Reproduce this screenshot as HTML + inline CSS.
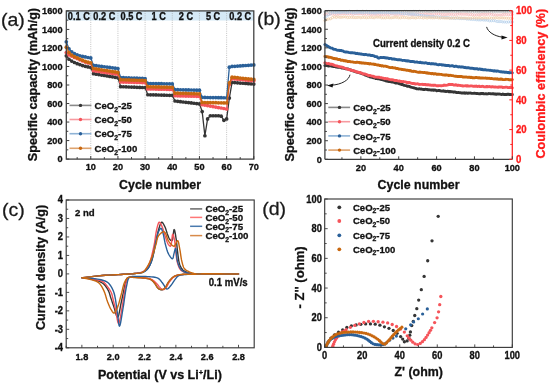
<!DOCTYPE html>
<html><head><meta charset="utf-8"><style>
html,body{margin:0;padding:0;background:#fff;}
svg{display:block;filter:blur(0.35px);font-family:"Liberation Sans", sans-serif;}
</style></head><body>
<svg width="550" height="386" viewBox="0 0 550 386">
<rect width="550" height="386" fill="#fff"/>
<text transform="translate(1,25.8) scale(1,0.92)" font-size="19.5" font-weight="normal" text-anchor="start" fill="#1a1a1a" stroke="#1a1a1a" stroke-width="0.3" >(a)</text>
<rect x="66.3" y="10.9" width="187.5" height="9.6" fill="#d5e9f6"/>
<line x1="90.76" y1="10.9" x2="90.76" y2="159.1" stroke="#9a9a9a" stroke-width="0.6" stroke-dasharray="1,1.2"/>
<line x1="117.93" y1="10.9" x2="117.93" y2="159.1" stroke="#9a9a9a" stroke-width="0.6" stroke-dasharray="1,1.2"/>
<line x1="145.1" y1="10.9" x2="145.1" y2="159.1" stroke="#9a9a9a" stroke-width="0.6" stroke-dasharray="1,1.2"/>
<line x1="172.28" y1="10.9" x2="172.28" y2="159.1" stroke="#9a9a9a" stroke-width="0.6" stroke-dasharray="1,1.2"/>
<line x1="199.45" y1="10.9" x2="199.45" y2="159.1" stroke="#9a9a9a" stroke-width="0.6" stroke-dasharray="1,1.2"/>
<line x1="226.63" y1="10.9" x2="226.63" y2="159.1" stroke="#9a9a9a" stroke-width="0.6" stroke-dasharray="1,1.2"/>
<text transform="translate(78.8,19.9) scale(1,1.1)" font-size="9.2" font-weight="bold" text-anchor="middle" fill="#111" stroke="#111" stroke-width="0.3" >0.1 C</text>
<text transform="translate(104.34,19.9) scale(1,1.1)" font-size="9.2" font-weight="bold" text-anchor="middle" fill="#111" stroke="#111" stroke-width="0.3" >0.2 C</text>
<text transform="translate(131.52,19.9) scale(1,1.1)" font-size="9.2" font-weight="bold" text-anchor="middle" fill="#111" stroke="#111" stroke-width="0.3" >0.5 C</text>
<text transform="translate(158.69,19.9) scale(1,1.1)" font-size="9.2" font-weight="bold" text-anchor="middle" fill="#111" stroke="#111" stroke-width="0.3" >1 C</text>
<text transform="translate(185.87,19.9) scale(1,1.1)" font-size="9.2" font-weight="bold" text-anchor="middle" fill="#111" stroke="#111" stroke-width="0.3" >2 C</text>
<text transform="translate(213.04,19.9) scale(1,1.1)" font-size="9.2" font-weight="bold" text-anchor="middle" fill="#111" stroke="#111" stroke-width="0.3" >5 C</text>
<text transform="translate(240.21,19.9) scale(1,1.1)" font-size="9.2" font-weight="bold" text-anchor="middle" fill="#111" stroke="#111" stroke-width="0.3" >0.2 C</text>
<polyline points="66.3,55.82 69.02,59.25 71.73,61.1 74.45,62.49 77.17,63.7 79.89,64.62 82.6,65.55 85.32,66.29 88.04,66.94 90.76,67.59 93.47,73.7 96.19,74.15 98.91,74.61 101.63,75.06 104.34,75.51 107.06,75.96 109.78,76.42 112.5,76.87 115.21,77.32 117.93,77.78 120.65,86.67 123.37,86.77 126.08,86.87 128.8,86.98 131.52,87.08 134.23,87.18 136.95,87.28 139.67,87.39 142.39,87.49 145.1,87.59 147.82,94.73 150.54,94.8 153.26,94.87 155.97,94.94 158.69,95.01 161.41,95.09 164.13,95.16 166.84,95.23 169.56,95.3 172.28,95.37 175,101.02 177.71,101.34 180.43,101.66 183.15,101.98 185.87,102.3 188.58,102.62 191.3,102.94 194.02,103.26 196.73,103.58 199.45,103.9 202.17,111.58 204.89,135.76 207.6,118.9 210.32,115.75 213.04,115.75 215.76,115.75 218.47,115.75 221.19,116.21 223.91,120.29 226.63,118.9 229.34,98.06 232.06,82.41 234.78,82.61 237.5,82.82 240.21,83.03 242.93,83.24 245.65,83.45 248.37,83.66 251.08,83.87 253.8,84.07" fill="none" stroke="#353535" stroke-width="1.3" stroke-linejoin="round" stroke-linecap="round" />
<g fill="#353535"><circle cx="66.3" cy="55.82" r="1.85"/><circle cx="69.02" cy="59.25" r="1.85"/><circle cx="71.73" cy="61.1" r="1.85"/><circle cx="74.45" cy="62.49" r="1.85"/><circle cx="77.17" cy="63.7" r="1.85"/><circle cx="79.89" cy="64.62" r="1.85"/><circle cx="82.6" cy="65.55" r="1.85"/><circle cx="85.32" cy="66.29" r="1.85"/><circle cx="88.04" cy="66.94" r="1.85"/><circle cx="90.76" cy="67.59" r="1.85"/><circle cx="93.47" cy="73.7" r="1.85"/><circle cx="96.19" cy="74.15" r="1.85"/><circle cx="98.91" cy="74.61" r="1.85"/><circle cx="101.63" cy="75.06" r="1.85"/><circle cx="104.34" cy="75.51" r="1.85"/><circle cx="107.06" cy="75.96" r="1.85"/><circle cx="109.78" cy="76.42" r="1.85"/><circle cx="112.5" cy="76.87" r="1.85"/><circle cx="115.21" cy="77.32" r="1.85"/><circle cx="117.93" cy="77.78" r="1.85"/><circle cx="120.65" cy="86.67" r="1.85"/><circle cx="123.37" cy="86.77" r="1.85"/><circle cx="126.08" cy="86.87" r="1.85"/><circle cx="128.8" cy="86.98" r="1.85"/><circle cx="131.52" cy="87.08" r="1.85"/><circle cx="134.23" cy="87.18" r="1.85"/><circle cx="136.95" cy="87.28" r="1.85"/><circle cx="139.67" cy="87.39" r="1.85"/><circle cx="142.39" cy="87.49" r="1.85"/><circle cx="145.1" cy="87.59" r="1.85"/><circle cx="147.82" cy="94.73" r="1.85"/><circle cx="150.54" cy="94.8" r="1.85"/><circle cx="153.26" cy="94.87" r="1.85"/><circle cx="155.97" cy="94.94" r="1.85"/><circle cx="158.69" cy="95.01" r="1.85"/><circle cx="161.41" cy="95.09" r="1.85"/><circle cx="164.13" cy="95.16" r="1.85"/><circle cx="166.84" cy="95.23" r="1.85"/><circle cx="169.56" cy="95.3" r="1.85"/><circle cx="172.28" cy="95.37" r="1.85"/><circle cx="175" cy="101.02" r="1.85"/><circle cx="177.71" cy="101.34" r="1.85"/><circle cx="180.43" cy="101.66" r="1.85"/><circle cx="183.15" cy="101.98" r="1.85"/><circle cx="185.87" cy="102.3" r="1.85"/><circle cx="188.58" cy="102.62" r="1.85"/><circle cx="191.3" cy="102.94" r="1.85"/><circle cx="194.02" cy="103.26" r="1.85"/><circle cx="196.73" cy="103.58" r="1.85"/><circle cx="199.45" cy="103.9" r="1.85"/><circle cx="202.17" cy="111.58" r="1.85"/><circle cx="204.89" cy="135.76" r="1.85"/><circle cx="207.6" cy="118.9" r="1.85"/><circle cx="210.32" cy="115.75" r="1.85"/><circle cx="213.04" cy="115.75" r="1.85"/><circle cx="215.76" cy="115.75" r="1.85"/><circle cx="218.47" cy="115.75" r="1.85"/><circle cx="221.19" cy="116.21" r="1.85"/><circle cx="223.91" cy="120.29" r="1.85"/><circle cx="226.63" cy="118.9" r="1.85"/><circle cx="229.34" cy="98.06" r="1.85"/><circle cx="232.06" cy="82.41" r="1.85"/><circle cx="234.78" cy="82.61" r="1.85"/><circle cx="237.5" cy="82.82" r="1.85"/><circle cx="240.21" cy="83.03" r="1.85"/><circle cx="242.93" cy="83.24" r="1.85"/><circle cx="245.65" cy="83.45" r="1.85"/><circle cx="248.37" cy="83.66" r="1.85"/><circle cx="251.08" cy="83.87" r="1.85"/><circle cx="253.8" cy="84.07" r="1.85"/></g>
<polyline points="66.3,52.58 69.02,54.9 71.73,56.1 74.45,57.4 77.17,58.6 79.89,59.81 82.6,60.92 85.32,62.03 88.04,62.96 90.76,63.51 93.47,70.64 96.19,71.05 98.91,71.47 101.63,71.88 104.34,72.29 107.06,72.7 109.78,73.11 112.5,73.52 115.21,73.94 117.93,74.35 120.65,81.94 123.37,82.03 126.08,82.11 128.8,82.19 131.52,82.27 134.23,82.36 136.95,82.44 139.67,82.52 142.39,82.6 145.1,82.68 147.82,88.89 150.54,88.95 153.26,89.01 155.97,89.08 158.69,89.14 161.41,89.2 164.13,89.26 166.84,89.32 169.56,89.38 172.28,89.45 175,95.74 177.71,95.82 180.43,95.89 183.15,95.96 185.87,96.03 188.58,96.1 191.3,96.18 194.02,96.25 196.73,96.32 199.45,96.39 202.17,104.64 204.89,105.12 207.6,105.6 210.32,106.09 213.04,106.57 215.76,107.06 218.47,107.54 221.19,108.02 223.91,108.51 226.63,108.99 229.34,84.44 232.06,78.7 234.78,78.97 237.5,79.23 240.21,79.5 242.93,79.77 245.65,80.03 248.37,80.3 251.08,80.57 253.8,80.83" fill="none" stroke="#f5545a" stroke-width="1.3" stroke-linejoin="round" stroke-linecap="round" />
<g fill="#f5545a"><circle cx="66.3" cy="52.58" r="1.85"/><circle cx="69.02" cy="54.9" r="1.85"/><circle cx="71.73" cy="56.1" r="1.85"/><circle cx="74.45" cy="57.4" r="1.85"/><circle cx="77.17" cy="58.6" r="1.85"/><circle cx="79.89" cy="59.81" r="1.85"/><circle cx="82.6" cy="60.92" r="1.85"/><circle cx="85.32" cy="62.03" r="1.85"/><circle cx="88.04" cy="62.96" r="1.85"/><circle cx="90.76" cy="63.51" r="1.85"/><circle cx="93.47" cy="70.64" r="1.85"/><circle cx="96.19" cy="71.05" r="1.85"/><circle cx="98.91" cy="71.47" r="1.85"/><circle cx="101.63" cy="71.88" r="1.85"/><circle cx="104.34" cy="72.29" r="1.85"/><circle cx="107.06" cy="72.7" r="1.85"/><circle cx="109.78" cy="73.11" r="1.85"/><circle cx="112.5" cy="73.52" r="1.85"/><circle cx="115.21" cy="73.94" r="1.85"/><circle cx="117.93" cy="74.35" r="1.85"/><circle cx="120.65" cy="81.94" r="1.85"/><circle cx="123.37" cy="82.03" r="1.85"/><circle cx="126.08" cy="82.11" r="1.85"/><circle cx="128.8" cy="82.19" r="1.85"/><circle cx="131.52" cy="82.27" r="1.85"/><circle cx="134.23" cy="82.36" r="1.85"/><circle cx="136.95" cy="82.44" r="1.85"/><circle cx="139.67" cy="82.52" r="1.85"/><circle cx="142.39" cy="82.6" r="1.85"/><circle cx="145.1" cy="82.68" r="1.85"/><circle cx="147.82" cy="88.89" r="1.85"/><circle cx="150.54" cy="88.95" r="1.85"/><circle cx="153.26" cy="89.01" r="1.85"/><circle cx="155.97" cy="89.08" r="1.85"/><circle cx="158.69" cy="89.14" r="1.85"/><circle cx="161.41" cy="89.2" r="1.85"/><circle cx="164.13" cy="89.26" r="1.85"/><circle cx="166.84" cy="89.32" r="1.85"/><circle cx="169.56" cy="89.38" r="1.85"/><circle cx="172.28" cy="89.45" r="1.85"/><circle cx="175" cy="95.74" r="1.85"/><circle cx="177.71" cy="95.82" r="1.85"/><circle cx="180.43" cy="95.89" r="1.85"/><circle cx="183.15" cy="95.96" r="1.85"/><circle cx="185.87" cy="96.03" r="1.85"/><circle cx="188.58" cy="96.1" r="1.85"/><circle cx="191.3" cy="96.18" r="1.85"/><circle cx="194.02" cy="96.25" r="1.85"/><circle cx="196.73" cy="96.32" r="1.85"/><circle cx="199.45" cy="96.39" r="1.85"/><circle cx="202.17" cy="104.64" r="1.85"/><circle cx="204.89" cy="105.12" r="1.85"/><circle cx="207.6" cy="105.6" r="1.85"/><circle cx="210.32" cy="106.09" r="1.85"/><circle cx="213.04" cy="106.57" r="1.85"/><circle cx="215.76" cy="107.06" r="1.85"/><circle cx="218.47" cy="107.54" r="1.85"/><circle cx="221.19" cy="108.02" r="1.85"/><circle cx="223.91" cy="108.51" r="1.85"/><circle cx="226.63" cy="108.99" r="1.85"/><circle cx="229.34" cy="84.44" r="1.85"/><circle cx="232.06" cy="78.7" r="1.85"/><circle cx="234.78" cy="78.97" r="1.85"/><circle cx="237.5" cy="79.23" r="1.85"/><circle cx="240.21" cy="79.5" r="1.85"/><circle cx="242.93" cy="79.77" r="1.85"/><circle cx="245.65" cy="80.03" r="1.85"/><circle cx="248.37" cy="80.3" r="1.85"/><circle cx="251.08" cy="80.57" r="1.85"/><circle cx="253.8" cy="80.83" r="1.85"/></g>
<polyline points="66.3,41.74 69.02,48.88 71.73,51.84 74.45,53.69 77.17,54.9 79.89,55.73 82.6,56.38 85.32,56.93 88.04,57.49 90.76,57.95 93.47,65.36 96.19,65.71 98.91,66.06 101.63,66.41 104.34,66.76 107.06,67.11 109.78,67.46 112.5,67.81 115.21,68.16 117.93,68.51 120.65,77.59 123.37,77.69 126.08,77.8 128.8,77.9 131.52,78 134.23,78.1 136.95,78.21 139.67,78.31 142.39,78.41 145.1,78.52 147.82,83.43 150.54,83.48 153.26,83.53 155.97,83.58 158.69,83.63 161.41,83.68 164.13,83.73 166.84,83.79 169.56,83.84 172.28,83.89 175,89.63 177.71,89.69 180.43,89.75 183.15,89.82 185.87,89.88 188.58,89.94 191.3,90 194.02,90.06 196.73,90.13 199.45,90.19 202.17,97.41 204.89,97.45 207.6,97.49 210.32,97.54 213.04,97.58 215.76,97.62 218.47,97.66 221.19,97.7 223.91,97.74 226.63,97.78 229.34,67.22 232.06,66.47 234.78,66.28 237.5,66.08 240.21,65.88 242.93,65.69 245.65,65.49 248.37,65.29 251.08,65.1 253.8,64.9" fill="none" stroke="#2a6099" stroke-width="1.3" stroke-linejoin="round" stroke-linecap="round" />
<g fill="#2a6099"><circle cx="66.3" cy="41.74" r="1.85"/><circle cx="69.02" cy="48.88" r="1.85"/><circle cx="71.73" cy="51.84" r="1.85"/><circle cx="74.45" cy="53.69" r="1.85"/><circle cx="77.17" cy="54.9" r="1.85"/><circle cx="79.89" cy="55.73" r="1.85"/><circle cx="82.6" cy="56.38" r="1.85"/><circle cx="85.32" cy="56.93" r="1.85"/><circle cx="88.04" cy="57.49" r="1.85"/><circle cx="90.76" cy="57.95" r="1.85"/><circle cx="93.47" cy="65.36" r="1.85"/><circle cx="96.19" cy="65.71" r="1.85"/><circle cx="98.91" cy="66.06" r="1.85"/><circle cx="101.63" cy="66.41" r="1.85"/><circle cx="104.34" cy="66.76" r="1.85"/><circle cx="107.06" cy="67.11" r="1.85"/><circle cx="109.78" cy="67.46" r="1.85"/><circle cx="112.5" cy="67.81" r="1.85"/><circle cx="115.21" cy="68.16" r="1.85"/><circle cx="117.93" cy="68.51" r="1.85"/><circle cx="120.65" cy="77.59" r="1.85"/><circle cx="123.37" cy="77.69" r="1.85"/><circle cx="126.08" cy="77.8" r="1.85"/><circle cx="128.8" cy="77.9" r="1.85"/><circle cx="131.52" cy="78" r="1.85"/><circle cx="134.23" cy="78.1" r="1.85"/><circle cx="136.95" cy="78.21" r="1.85"/><circle cx="139.67" cy="78.31" r="1.85"/><circle cx="142.39" cy="78.41" r="1.85"/><circle cx="145.1" cy="78.52" r="1.85"/><circle cx="147.82" cy="83.43" r="1.85"/><circle cx="150.54" cy="83.48" r="1.85"/><circle cx="153.26" cy="83.53" r="1.85"/><circle cx="155.97" cy="83.58" r="1.85"/><circle cx="158.69" cy="83.63" r="1.85"/><circle cx="161.41" cy="83.68" r="1.85"/><circle cx="164.13" cy="83.73" r="1.85"/><circle cx="166.84" cy="83.79" r="1.85"/><circle cx="169.56" cy="83.84" r="1.85"/><circle cx="172.28" cy="83.89" r="1.85"/><circle cx="175" cy="89.63" r="1.85"/><circle cx="177.71" cy="89.69" r="1.85"/><circle cx="180.43" cy="89.75" r="1.85"/><circle cx="183.15" cy="89.82" r="1.85"/><circle cx="185.87" cy="89.88" r="1.85"/><circle cx="188.58" cy="89.94" r="1.85"/><circle cx="191.3" cy="90" r="1.85"/><circle cx="194.02" cy="90.06" r="1.85"/><circle cx="196.73" cy="90.13" r="1.85"/><circle cx="199.45" cy="90.19" r="1.85"/><circle cx="202.17" cy="97.41" r="1.85"/><circle cx="204.89" cy="97.45" r="1.85"/><circle cx="207.6" cy="97.49" r="1.85"/><circle cx="210.32" cy="97.54" r="1.85"/><circle cx="213.04" cy="97.58" r="1.85"/><circle cx="215.76" cy="97.62" r="1.85"/><circle cx="218.47" cy="97.66" r="1.85"/><circle cx="221.19" cy="97.7" r="1.85"/><circle cx="223.91" cy="97.74" r="1.85"/><circle cx="226.63" cy="97.78" r="1.85"/><circle cx="229.34" cy="67.22" r="1.85"/><circle cx="232.06" cy="66.47" r="1.85"/><circle cx="234.78" cy="66.28" r="1.85"/><circle cx="237.5" cy="66.08" r="1.85"/><circle cx="240.21" cy="65.88" r="1.85"/><circle cx="242.93" cy="65.69" r="1.85"/><circle cx="245.65" cy="65.49" r="1.85"/><circle cx="248.37" cy="65.29" r="1.85"/><circle cx="251.08" cy="65.1" r="1.85"/><circle cx="253.8" cy="64.9" r="1.85"/></g>
<polyline points="66.3,47.21 69.02,52.58 71.73,54.99 74.45,56.66 77.17,57.86 79.89,59.06 82.6,60.18 85.32,61.29 88.04,62.21 90.76,62.77 93.47,68.51 96.19,68.94 98.91,69.38 101.63,69.81 104.34,70.24 107.06,70.67 109.78,71.11 112.5,71.54 115.21,71.97 117.93,72.4 120.65,79.63 123.37,79.73 126.08,79.83 128.8,79.94 131.52,80.04 134.23,80.14 136.95,80.25 139.67,80.35 142.39,80.45 145.1,80.55 147.82,86.67 150.54,86.74 153.26,86.81 155.97,86.88 158.69,86.96 161.41,87.03 164.13,87.1 166.84,87.17 169.56,87.24 172.28,87.32 175,93.15 177.71,93.22 180.43,93.3 183.15,93.37 185.87,93.44 188.58,93.51 191.3,93.58 194.02,93.66 196.73,93.73 199.45,93.8 202.17,102.41 204.89,102.48 207.6,102.54 210.32,102.6 213.04,102.66 215.76,102.72 218.47,102.78 221.19,102.85 223.91,102.91 226.63,102.97 229.34,82.96 232.06,77.13 234.78,77.42 237.5,77.71 240.21,78 242.93,78.28 245.65,78.57 248.37,78.86 251.08,79.15 253.8,79.44" fill="none" stroke="#c8670f" stroke-width="1.3" stroke-linejoin="round" stroke-linecap="round" />
<g fill="#c8670f"><circle cx="66.3" cy="47.21" r="1.85"/><circle cx="69.02" cy="52.58" r="1.85"/><circle cx="71.73" cy="54.99" r="1.85"/><circle cx="74.45" cy="56.66" r="1.85"/><circle cx="77.17" cy="57.86" r="1.85"/><circle cx="79.89" cy="59.06" r="1.85"/><circle cx="82.6" cy="60.18" r="1.85"/><circle cx="85.32" cy="61.29" r="1.85"/><circle cx="88.04" cy="62.21" r="1.85"/><circle cx="90.76" cy="62.77" r="1.85"/><circle cx="93.47" cy="68.51" r="1.85"/><circle cx="96.19" cy="68.94" r="1.85"/><circle cx="98.91" cy="69.38" r="1.85"/><circle cx="101.63" cy="69.81" r="1.85"/><circle cx="104.34" cy="70.24" r="1.85"/><circle cx="107.06" cy="70.67" r="1.85"/><circle cx="109.78" cy="71.11" r="1.85"/><circle cx="112.5" cy="71.54" r="1.85"/><circle cx="115.21" cy="71.97" r="1.85"/><circle cx="117.93" cy="72.4" r="1.85"/><circle cx="120.65" cy="79.63" r="1.85"/><circle cx="123.37" cy="79.73" r="1.85"/><circle cx="126.08" cy="79.83" r="1.85"/><circle cx="128.8" cy="79.94" r="1.85"/><circle cx="131.52" cy="80.04" r="1.85"/><circle cx="134.23" cy="80.14" r="1.85"/><circle cx="136.95" cy="80.25" r="1.85"/><circle cx="139.67" cy="80.35" r="1.85"/><circle cx="142.39" cy="80.45" r="1.85"/><circle cx="145.1" cy="80.55" r="1.85"/><circle cx="147.82" cy="86.67" r="1.85"/><circle cx="150.54" cy="86.74" r="1.85"/><circle cx="153.26" cy="86.81" r="1.85"/><circle cx="155.97" cy="86.88" r="1.85"/><circle cx="158.69" cy="86.96" r="1.85"/><circle cx="161.41" cy="87.03" r="1.85"/><circle cx="164.13" cy="87.1" r="1.85"/><circle cx="166.84" cy="87.17" r="1.85"/><circle cx="169.56" cy="87.24" r="1.85"/><circle cx="172.28" cy="87.32" r="1.85"/><circle cx="175" cy="93.15" r="1.85"/><circle cx="177.71" cy="93.22" r="1.85"/><circle cx="180.43" cy="93.3" r="1.85"/><circle cx="183.15" cy="93.37" r="1.85"/><circle cx="185.87" cy="93.44" r="1.85"/><circle cx="188.58" cy="93.51" r="1.85"/><circle cx="191.3" cy="93.58" r="1.85"/><circle cx="194.02" cy="93.66" r="1.85"/><circle cx="196.73" cy="93.73" r="1.85"/><circle cx="199.45" cy="93.8" r="1.85"/><circle cx="202.17" cy="102.41" r="1.85"/><circle cx="204.89" cy="102.48" r="1.85"/><circle cx="207.6" cy="102.54" r="1.85"/><circle cx="210.32" cy="102.6" r="1.85"/><circle cx="213.04" cy="102.66" r="1.85"/><circle cx="215.76" cy="102.72" r="1.85"/><circle cx="218.47" cy="102.78" r="1.85"/><circle cx="221.19" cy="102.85" r="1.85"/><circle cx="223.91" cy="102.91" r="1.85"/><circle cx="226.63" cy="102.97" r="1.85"/><circle cx="229.34" cy="82.96" r="1.85"/><circle cx="232.06" cy="77.13" r="1.85"/><circle cx="234.78" cy="77.42" r="1.85"/><circle cx="237.5" cy="77.71" r="1.85"/><circle cx="240.21" cy="78" r="1.85"/><circle cx="242.93" cy="78.28" r="1.85"/><circle cx="245.65" cy="78.57" r="1.85"/><circle cx="248.37" cy="78.86" r="1.85"/><circle cx="251.08" cy="79.15" r="1.85"/><circle cx="253.8" cy="79.44" r="1.85"/></g>
<rect x="66.3" y="10.9" width="187.5" height="148.2" fill="none" stroke="#3c3c3c" stroke-width="1.25"/>
<line x1="66.3" y1="159.1" x2="69.3" y2="159.1" stroke="#3c3c3c" stroke-width="1" />
<line x1="66.3" y1="149.84" x2="68.3" y2="149.84" stroke="#3c3c3c" stroke-width="1" />
<line x1="66.3" y1="140.57" x2="69.3" y2="140.57" stroke="#3c3c3c" stroke-width="1" />
<line x1="66.3" y1="131.31" x2="68.3" y2="131.31" stroke="#3c3c3c" stroke-width="1" />
<line x1="66.3" y1="122.05" x2="69.3" y2="122.05" stroke="#3c3c3c" stroke-width="1" />
<line x1="66.3" y1="112.79" x2="68.3" y2="112.79" stroke="#3c3c3c" stroke-width="1" />
<line x1="66.3" y1="103.52" x2="69.3" y2="103.52" stroke="#3c3c3c" stroke-width="1" />
<line x1="66.3" y1="94.26" x2="68.3" y2="94.26" stroke="#3c3c3c" stroke-width="1" />
<line x1="66.3" y1="85" x2="69.3" y2="85" stroke="#3c3c3c" stroke-width="1" />
<line x1="66.3" y1="75.74" x2="68.3" y2="75.74" stroke="#3c3c3c" stroke-width="1" />
<line x1="66.3" y1="66.47" x2="69.3" y2="66.47" stroke="#3c3c3c" stroke-width="1" />
<line x1="66.3" y1="57.21" x2="68.3" y2="57.21" stroke="#3c3c3c" stroke-width="1" />
<line x1="66.3" y1="47.95" x2="69.3" y2="47.95" stroke="#3c3c3c" stroke-width="1" />
<line x1="66.3" y1="38.69" x2="68.3" y2="38.69" stroke="#3c3c3c" stroke-width="1" />
<line x1="66.3" y1="29.43" x2="69.3" y2="29.43" stroke="#3c3c3c" stroke-width="1" />
<line x1="66.3" y1="20.16" x2="68.3" y2="20.16" stroke="#3c3c3c" stroke-width="1" />
<line x1="66.3" y1="10.9" x2="69.3" y2="10.9" stroke="#3c3c3c" stroke-width="1" />
<line x1="77.17" y1="159.1" x2="77.17" y2="157.1" stroke="#3c3c3c" stroke-width="1" />
<line x1="90.76" y1="159.1" x2="90.76" y2="156.1" stroke="#3c3c3c" stroke-width="1" />
<line x1="104.34" y1="159.1" x2="104.34" y2="157.1" stroke="#3c3c3c" stroke-width="1" />
<line x1="117.93" y1="159.1" x2="117.93" y2="156.1" stroke="#3c3c3c" stroke-width="1" />
<line x1="131.52" y1="159.1" x2="131.52" y2="157.1" stroke="#3c3c3c" stroke-width="1" />
<line x1="145.1" y1="159.1" x2="145.1" y2="156.1" stroke="#3c3c3c" stroke-width="1" />
<line x1="158.69" y1="159.1" x2="158.69" y2="157.1" stroke="#3c3c3c" stroke-width="1" />
<line x1="172.28" y1="159.1" x2="172.28" y2="156.1" stroke="#3c3c3c" stroke-width="1" />
<line x1="185.87" y1="159.1" x2="185.87" y2="157.1" stroke="#3c3c3c" stroke-width="1" />
<line x1="199.45" y1="159.1" x2="199.45" y2="156.1" stroke="#3c3c3c" stroke-width="1" />
<line x1="213.04" y1="159.1" x2="213.04" y2="157.1" stroke="#3c3c3c" stroke-width="1" />
<line x1="226.63" y1="159.1" x2="226.63" y2="156.1" stroke="#3c3c3c" stroke-width="1" />
<line x1="240.21" y1="159.1" x2="240.21" y2="157.1" stroke="#3c3c3c" stroke-width="1" />
<line x1="253.8" y1="159.1" x2="253.8" y2="156.1" stroke="#3c3c3c" stroke-width="1" />
<text transform="translate(62.5,162.4) scale(1,1.08)" font-size="9.2" font-weight="bold" text-anchor="end" fill="#111" stroke="#111" stroke-width="0.3" >0</text>
<text transform="translate(62.5,143.88) scale(1,1.08)" font-size="9.2" font-weight="bold" text-anchor="end" fill="#111" stroke="#111" stroke-width="0.3" >200</text>
<text transform="translate(62.5,125.35) scale(1,1.08)" font-size="9.2" font-weight="bold" text-anchor="end" fill="#111" stroke="#111" stroke-width="0.3" >400</text>
<text transform="translate(62.5,106.82) scale(1,1.08)" font-size="9.2" font-weight="bold" text-anchor="end" fill="#111" stroke="#111" stroke-width="0.3" >600</text>
<text transform="translate(62.5,88.3) scale(1,1.08)" font-size="9.2" font-weight="bold" text-anchor="end" fill="#111" stroke="#111" stroke-width="0.3" >800</text>
<text transform="translate(62.5,69.77) scale(1,1.08)" font-size="9.2" font-weight="bold" text-anchor="end" fill="#111" stroke="#111" stroke-width="0.3" >1000</text>
<text transform="translate(62.5,51.25) scale(1,1.08)" font-size="9.2" font-weight="bold" text-anchor="end" fill="#111" stroke="#111" stroke-width="0.3" >1200</text>
<text transform="translate(62.5,32.73) scale(1,1.08)" font-size="9.2" font-weight="bold" text-anchor="end" fill="#111" stroke="#111" stroke-width="0.3" >1400</text>
<text transform="translate(62.5,14.2) scale(1,1.08)" font-size="9.2" font-weight="bold" text-anchor="end" fill="#111" stroke="#111" stroke-width="0.3" >1600</text>
<text transform="translate(90.76,170.3) scale(1,1.08)" font-size="9.2" font-weight="bold" text-anchor="middle" fill="#111" stroke="#111" stroke-width="0.3" >10</text>
<text transform="translate(117.93,170.3) scale(1,1.08)" font-size="9.2" font-weight="bold" text-anchor="middle" fill="#111" stroke="#111" stroke-width="0.3" >20</text>
<text transform="translate(145.1,170.3) scale(1,1.08)" font-size="9.2" font-weight="bold" text-anchor="middle" fill="#111" stroke="#111" stroke-width="0.3" >30</text>
<text transform="translate(172.28,170.3) scale(1,1.08)" font-size="9.2" font-weight="bold" text-anchor="middle" fill="#111" stroke="#111" stroke-width="0.3" >40</text>
<text transform="translate(199.45,170.3) scale(1,1.08)" font-size="9.2" font-weight="bold" text-anchor="middle" fill="#111" stroke="#111" stroke-width="0.3" >50</text>
<text transform="translate(226.63,170.3) scale(1,1.08)" font-size="9.2" font-weight="bold" text-anchor="middle" fill="#111" stroke="#111" stroke-width="0.3" >60</text>
<text transform="translate(253.8,170.3) scale(1,1.08)" font-size="9.2" font-weight="bold" text-anchor="middle" fill="#111" stroke="#111" stroke-width="0.3" >70</text>
<text transform="translate(37.4,161.2) rotate(-90)" font-size="12.6" font-weight="bold" text-anchor="start" fill="#111" stroke="#111" stroke-width="0.3">Specific capacity (mAh/g)</text>
<text x="119.1" y="188.5" font-size="12.4" font-weight="bold" text-anchor="start" fill="#111" stroke="#111" stroke-width="0.3" >Cycle number</text>
<line x1="69.5" y1="105.4" x2="91.4" y2="105.4" stroke="#8a8a8a" stroke-width="1.6" />
<g fill="#353535"><circle cx="80.5" cy="105.4" r="1.7"/></g>
<text x="94.5" y="109" font-size="9.6" font-weight="bold" fill="#111" stroke="#111" stroke-width="0.3">CeO<tspan font-size="6.8" dy="2.6">2</tspan><tspan dy="-2.6">-25</tspan></text>
<line x1="69.5" y1="119.5" x2="91.4" y2="119.5" stroke="#f79aa0" stroke-width="1.6" />
<g fill="#f5545a"><circle cx="80.5" cy="119.5" r="1.7"/></g>
<text x="94.5" y="123.1" font-size="9.6" font-weight="bold" fill="#111" stroke="#111" stroke-width="0.3">CeO<tspan font-size="6.8" dy="2.6">2</tspan><tspan dy="-2.6">-50</tspan></text>
<line x1="69.5" y1="133.7" x2="91.4" y2="133.7" stroke="#8fb3d6" stroke-width="1.6" />
<g fill="#2a6099"><circle cx="80.5" cy="133.7" r="1.7"/></g>
<text x="94.5" y="137.3" font-size="9.6" font-weight="bold" fill="#111" stroke="#111" stroke-width="0.3">CeO<tspan font-size="6.8" dy="2.6">2</tspan><tspan dy="-2.6">-75</tspan></text>
<line x1="69.5" y1="148.3" x2="91.4" y2="148.3" stroke="#dea36e" stroke-width="1.6" />
<g fill="#c8670f"><circle cx="80.5" cy="148.3" r="1.7"/></g>
<text x="94.5" y="151.9" font-size="9.6" font-weight="bold" fill="#111" stroke="#111" stroke-width="0.3">CeO<tspan font-size="6.8" dy="2.6">2</tspan><tspan dy="-2.6">-100</tspan></text>
<text transform="translate(257,24.9) scale(1,0.92)" font-size="19.5" font-weight="normal" text-anchor="start" fill="#1a1a1a" stroke="#1a1a1a" stroke-width="0.3" >(b)</text>
<g fill="none" stroke="#bdbdbd" stroke-width="0.7"><circle cx="324.9" cy="11.72" r="1.1"/><circle cx="326.79" cy="11.85" r="1.1"/><circle cx="328.69" cy="11.48" r="1.1"/><circle cx="330.58" cy="11.91" r="1.1"/><circle cx="332.47" cy="11.57" r="1.1"/><circle cx="334.36" cy="11.7" r="1.1"/><circle cx="336.26" cy="11.93" r="1.1"/><circle cx="338.15" cy="11.6" r="1.1"/><circle cx="340.04" cy="11.95" r="1.1"/><circle cx="341.94" cy="11.65" r="1.1"/><circle cx="343.83" cy="11.93" r="1.1"/><circle cx="345.72" cy="11.91" r="1.1"/><circle cx="347.62" cy="11.67" r="1.1"/><circle cx="349.51" cy="11.37" r="1.1"/><circle cx="351.4" cy="11.89" r="1.1"/><circle cx="353.29" cy="11.82" r="1.1"/><circle cx="355.19" cy="11.52" r="1.1"/><circle cx="357.08" cy="11.28" r="1.1"/><circle cx="358.97" cy="11.56" r="1.1"/><circle cx="360.87" cy="11.7" r="1.1"/><circle cx="362.76" cy="11.27" r="1.1"/><circle cx="364.65" cy="11.96" r="1.1"/><circle cx="366.54" cy="11.36" r="1.1"/><circle cx="368.44" cy="11.78" r="1.1"/><circle cx="370.33" cy="11.89" r="1.1"/><circle cx="372.22" cy="11.91" r="1.1"/><circle cx="374.12" cy="11.77" r="1.1"/><circle cx="376.01" cy="11.4" r="1.1"/><circle cx="377.9" cy="11.87" r="1.1"/><circle cx="379.79" cy="11.57" r="1.1"/><circle cx="381.69" cy="11.53" r="1.1"/><circle cx="383.58" cy="11.73" r="1.1"/><circle cx="385.47" cy="11.6" r="1.1"/><circle cx="387.37" cy="11.97" r="1.1"/><circle cx="389.26" cy="11.97" r="1.1"/><circle cx="391.15" cy="11.86" r="1.1"/><circle cx="393.05" cy="11.51" r="1.1"/><circle cx="394.94" cy="11.7" r="1.1"/><circle cx="396.83" cy="11.79" r="1.1"/><circle cx="398.72" cy="11.59" r="1.1"/><circle cx="400.62" cy="11.69" r="1.1"/><circle cx="402.51" cy="11.8" r="1.1"/><circle cx="404.4" cy="11.44" r="1.1"/><circle cx="406.3" cy="11.51" r="1.1"/><circle cx="408.19" cy="11.85" r="1.1"/><circle cx="410.08" cy="11.6" r="1.1"/><circle cx="411.97" cy="11.64" r="1.1"/><circle cx="413.87" cy="11.38" r="1.1"/><circle cx="415.76" cy="11.49" r="1.1"/><circle cx="417.65" cy="11.82" r="1.1"/><circle cx="419.55" cy="11.31" r="1.1"/><circle cx="421.44" cy="11.95" r="1.1"/><circle cx="423.33" cy="11.73" r="1.1"/><circle cx="425.23" cy="11.48" r="1.1"/><circle cx="427.12" cy="11.93" r="1.1"/><circle cx="429.01" cy="11.68" r="1.1"/><circle cx="430.9" cy="12.02" r="1.1"/><circle cx="432.8" cy="11.55" r="1.1"/><circle cx="434.69" cy="11.48" r="1.1"/><circle cx="436.58" cy="11.63" r="1.1"/><circle cx="438.48" cy="11.4" r="1.1"/><circle cx="440.37" cy="11.82" r="1.1"/><circle cx="442.26" cy="11.54" r="1.1"/><circle cx="444.15" cy="11.62" r="1.1"/><circle cx="446.05" cy="11.63" r="1.1"/><circle cx="447.94" cy="11.72" r="1.1"/><circle cx="449.83" cy="11.44" r="1.1"/><circle cx="451.73" cy="11.36" r="1.1"/><circle cx="453.62" cy="11.71" r="1.1"/><circle cx="455.51" cy="11.57" r="1.1"/><circle cx="457.41" cy="12.02" r="1.1"/><circle cx="459.3" cy="11.55" r="1.1"/><circle cx="461.19" cy="11.59" r="1.1"/><circle cx="463.08" cy="11.33" r="1.1"/><circle cx="464.98" cy="11.46" r="1.1"/><circle cx="466.87" cy="11.86" r="1.1"/><circle cx="468.76" cy="11.79" r="1.1"/><circle cx="470.66" cy="11.58" r="1.1"/><circle cx="472.55" cy="12.06" r="1.1"/><circle cx="474.44" cy="11.74" r="1.1"/><circle cx="476.33" cy="11.96" r="1.1"/><circle cx="478.23" cy="12" r="1.1"/><circle cx="480.12" cy="12.04" r="1.1"/><circle cx="482.01" cy="11.52" r="1.1"/><circle cx="483.91" cy="11.99" r="1.1"/><circle cx="485.8" cy="11.91" r="1.1"/><circle cx="487.69" cy="11.8" r="1.1"/><circle cx="489.58" cy="11.45" r="1.1"/><circle cx="491.48" cy="12.04" r="1.1"/><circle cx="493.37" cy="11.76" r="1.1"/><circle cx="495.26" cy="11.69" r="1.1"/><circle cx="497.16" cy="11.44" r="1.1"/><circle cx="499.05" cy="11.49" r="1.1"/><circle cx="500.94" cy="11.46" r="1.1"/><circle cx="502.84" cy="11.9" r="1.1"/><circle cx="504.73" cy="11.8" r="1.1"/><circle cx="506.62" cy="11.84" r="1.1"/><circle cx="508.51" cy="11.45" r="1.1"/><circle cx="510.41" cy="11.4" r="1.1"/><circle cx="512.3" cy="12" r="1.1"/></g>
<g fill="none" stroke="#f6b7b9" stroke-width="0.7"><circle cx="324.9" cy="14.51" r="1.1"/><circle cx="326.79" cy="14.43" r="1.1"/><circle cx="328.69" cy="14.4" r="1.1"/><circle cx="330.58" cy="14.18" r="1.1"/><circle cx="332.47" cy="14.07" r="1.1"/><circle cx="334.36" cy="14.28" r="1.1"/><circle cx="336.26" cy="14.44" r="1.1"/><circle cx="338.15" cy="14.1" r="1.1"/><circle cx="340.04" cy="14.1" r="1.1"/><circle cx="341.94" cy="13.92" r="1.1"/><circle cx="343.83" cy="13.64" r="1.1"/><circle cx="345.72" cy="13.84" r="1.1"/><circle cx="347.62" cy="13.98" r="1.1"/><circle cx="349.51" cy="13.91" r="1.1"/><circle cx="351.4" cy="13.88" r="1.1"/><circle cx="353.29" cy="14.35" r="1.1"/><circle cx="355.19" cy="13.73" r="1.1"/><circle cx="357.08" cy="13.83" r="1.1"/><circle cx="358.97" cy="13.77" r="1.1"/><circle cx="360.87" cy="13.83" r="1.1"/><circle cx="362.76" cy="14.14" r="1.1"/><circle cx="364.65" cy="14.14" r="1.1"/><circle cx="366.54" cy="14.37" r="1.1"/><circle cx="368.44" cy="13.99" r="1.1"/><circle cx="370.33" cy="14.42" r="1.1"/><circle cx="372.22" cy="14.42" r="1.1"/><circle cx="374.12" cy="14.33" r="1.1"/><circle cx="376.01" cy="14.37" r="1.1"/><circle cx="377.9" cy="14.24" r="1.1"/><circle cx="379.79" cy="14.47" r="1.1"/><circle cx="381.69" cy="14.51" r="1.1"/><circle cx="383.58" cy="14.41" r="1.1"/><circle cx="385.47" cy="14.46" r="1.1"/><circle cx="387.37" cy="14.27" r="1.1"/><circle cx="389.26" cy="14.53" r="1.1"/><circle cx="391.15" cy="13.91" r="1.1"/><circle cx="393.05" cy="14.11" r="1.1"/><circle cx="394.94" cy="14.46" r="1.1"/><circle cx="396.83" cy="14.39" r="1.1"/><circle cx="398.72" cy="14.33" r="1.1"/><circle cx="400.62" cy="14.33" r="1.1"/><circle cx="402.51" cy="14.51" r="1.1"/><circle cx="404.4" cy="13.98" r="1.1"/><circle cx="406.3" cy="13.88" r="1.1"/><circle cx="408.19" cy="14.28" r="1.1"/><circle cx="410.08" cy="14.28" r="1.1"/><circle cx="411.97" cy="14.58" r="1.1"/><circle cx="413.87" cy="14.58" r="1.1"/><circle cx="415.76" cy="14.41" r="1.1"/><circle cx="417.65" cy="14.47" r="1.1"/><circle cx="419.55" cy="14.06" r="1.1"/><circle cx="421.44" cy="14.57" r="1.1"/><circle cx="423.33" cy="14.68" r="1.1"/><circle cx="425.23" cy="14" r="1.1"/><circle cx="427.12" cy="14.32" r="1.1"/><circle cx="429.01" cy="14.61" r="1.1"/><circle cx="430.9" cy="14.33" r="1.1"/><circle cx="432.8" cy="14.72" r="1.1"/><circle cx="434.69" cy="14.35" r="1.1"/><circle cx="436.58" cy="14.03" r="1.1"/><circle cx="438.48" cy="14.12" r="1.1"/><circle cx="440.37" cy="14.25" r="1.1"/><circle cx="442.26" cy="14.58" r="1.1"/><circle cx="444.15" cy="14.51" r="1.1"/><circle cx="446.05" cy="14.67" r="1.1"/><circle cx="447.94" cy="14.23" r="1.1"/><circle cx="449.83" cy="14.42" r="1.1"/><circle cx="451.73" cy="14.24" r="1.1"/><circle cx="453.62" cy="14.58" r="1.1"/><circle cx="455.51" cy="14.67" r="1.1"/><circle cx="457.41" cy="14.24" r="1.1"/><circle cx="459.3" cy="14.12" r="1.1"/><circle cx="461.19" cy="14.23" r="1.1"/><circle cx="463.08" cy="14.27" r="1.1"/><circle cx="464.98" cy="14.27" r="1.1"/><circle cx="466.87" cy="14.34" r="1.1"/><circle cx="468.76" cy="14.73" r="1.1"/><circle cx="470.66" cy="14.52" r="1.1"/><circle cx="472.55" cy="14.65" r="1.1"/><circle cx="474.44" cy="14.9" r="1.1"/><circle cx="476.33" cy="14.91" r="1.1"/><circle cx="478.23" cy="14.73" r="1.1"/><circle cx="480.12" cy="14.75" r="1.1"/><circle cx="482.01" cy="14.44" r="1.1"/><circle cx="483.91" cy="14.25" r="1.1"/><circle cx="485.8" cy="14.64" r="1.1"/><circle cx="487.69" cy="14.28" r="1.1"/><circle cx="489.58" cy="14.25" r="1.1"/><circle cx="491.48" cy="14.28" r="1.1"/><circle cx="493.37" cy="14.73" r="1.1"/><circle cx="495.26" cy="14.85" r="1.1"/><circle cx="497.16" cy="14.85" r="1.1"/><circle cx="499.05" cy="14.88" r="1.1"/><circle cx="500.94" cy="14.88" r="1.1"/><circle cx="502.84" cy="14.58" r="1.1"/><circle cx="504.73" cy="14.38" r="1.1"/><circle cx="506.62" cy="14.43" r="1.1"/><circle cx="508.51" cy="14.71" r="1.1"/><circle cx="510.41" cy="14.59" r="1.1"/><circle cx="512.3" cy="14.49" r="1.1"/></g>
<g fill="none" stroke="#b3cfe9" stroke-width="0.7"><circle cx="324.9" cy="17.7" r="1.1"/><circle cx="326.79" cy="16.04" r="1.1"/><circle cx="328.69" cy="14.63" r="1.1"/><circle cx="330.58" cy="13.5" r="1.1"/><circle cx="332.47" cy="12.3" r="1.1"/><circle cx="334.36" cy="12.51" r="1.1"/><circle cx="336.26" cy="12.75" r="1.1"/><circle cx="338.15" cy="12.31" r="1.1"/><circle cx="340.04" cy="12.66" r="1.1"/><circle cx="341.94" cy="12.32" r="1.1"/><circle cx="343.83" cy="12.21" r="1.1"/><circle cx="345.72" cy="12.65" r="1.1"/><circle cx="347.62" cy="12.66" r="1.1"/><circle cx="349.51" cy="12.27" r="1.1"/><circle cx="351.4" cy="12.44" r="1.1"/><circle cx="353.29" cy="12.87" r="1.1"/><circle cx="355.19" cy="12.91" r="1.1"/><circle cx="357.08" cy="12.91" r="1.1"/><circle cx="358.97" cy="12.36" r="1.1"/><circle cx="360.87" cy="12.45" r="1.1"/><circle cx="362.76" cy="12.95" r="1.1"/><circle cx="364.65" cy="12.46" r="1.1"/><circle cx="366.54" cy="12.36" r="1.1"/><circle cx="368.44" cy="12.61" r="1.1"/><circle cx="370.33" cy="12.85" r="1.1"/><circle cx="372.22" cy="12.71" r="1.1"/><circle cx="374.12" cy="13.04" r="1.1"/><circle cx="376.01" cy="13.14" r="1.1"/><circle cx="377.9" cy="12.44" r="1.1"/><circle cx="379.79" cy="12.69" r="1.1"/><circle cx="381.69" cy="12.79" r="1.1"/><circle cx="383.58" cy="12.5" r="1.1"/><circle cx="385.47" cy="12.89" r="1.1"/><circle cx="387.37" cy="12.58" r="1.1"/><circle cx="389.26" cy="12.62" r="1.1"/><circle cx="391.15" cy="13.09" r="1.1"/><circle cx="393.05" cy="13.08" r="1.1"/><circle cx="394.94" cy="13.06" r="1.1"/><circle cx="396.83" cy="13.11" r="1.1"/><circle cx="398.72" cy="12.86" r="1.1"/><circle cx="400.62" cy="13.31" r="1.1"/><circle cx="402.51" cy="13.39" r="1.1"/><circle cx="404.4" cy="13.8" r="1.1"/><circle cx="406.3" cy="13.43" r="1.1"/><circle cx="408.19" cy="14.04" r="1.1"/><circle cx="410.08" cy="14.16" r="1.1"/><circle cx="411.97" cy="14.27" r="1.1"/><circle cx="413.87" cy="14.23" r="1.1"/><circle cx="415.76" cy="14.79" r="1.1"/><circle cx="417.65" cy="14.62" r="1.1"/><circle cx="419.55" cy="15.13" r="1.1"/><circle cx="421.44" cy="15.31" r="1.1"/><circle cx="423.33" cy="15.52" r="1.1"/><circle cx="425.23" cy="16.1" r="1.1"/><circle cx="427.12" cy="15.98" r="1.1"/><circle cx="429.01" cy="16.37" r="1.1"/><circle cx="430.9" cy="16.71" r="1.1"/><circle cx="432.8" cy="16.32" r="1.1"/><circle cx="434.69" cy="16.98" r="1.1"/><circle cx="436.58" cy="16.96" r="1.1"/><circle cx="438.48" cy="16.91" r="1.1"/><circle cx="440.37" cy="17.17" r="1.1"/><circle cx="442.26" cy="17.47" r="1.1"/><circle cx="444.15" cy="17.46" r="1.1"/><circle cx="446.05" cy="17.57" r="1.1"/><circle cx="447.94" cy="17.53" r="1.1"/><circle cx="449.83" cy="18.17" r="1.1"/><circle cx="451.73" cy="17.97" r="1.1"/><circle cx="453.62" cy="18.33" r="1.1"/><circle cx="455.51" cy="18.44" r="1.1"/><circle cx="457.41" cy="18.21" r="1.1"/><circle cx="459.3" cy="18.54" r="1.1"/><circle cx="461.19" cy="18.63" r="1.1"/><circle cx="463.08" cy="18.62" r="1.1"/><circle cx="464.98" cy="18.64" r="1.1"/><circle cx="466.87" cy="19.12" r="1.1"/><circle cx="468.76" cy="19.13" r="1.1"/><circle cx="470.66" cy="19.34" r="1.1"/><circle cx="472.55" cy="19.47" r="1.1"/><circle cx="474.44" cy="19.47" r="1.1"/><circle cx="476.33" cy="19.79" r="1.1"/><circle cx="478.23" cy="19.86" r="1.1"/><circle cx="480.12" cy="20.03" r="1.1"/><circle cx="482.01" cy="19.82" r="1.1"/><circle cx="483.91" cy="20.14" r="1.1"/><circle cx="485.8" cy="20.14" r="1.1"/><circle cx="487.69" cy="20.22" r="1.1"/><circle cx="489.58" cy="20.86" r="1.1"/><circle cx="491.48" cy="20.78" r="1.1"/><circle cx="493.37" cy="20.62" r="1.1"/><circle cx="495.26" cy="20.83" r="1.1"/><circle cx="497.16" cy="21.49" r="1.1"/><circle cx="499.05" cy="21.64" r="1.1"/><circle cx="500.94" cy="21.53" r="1.1"/><circle cx="502.84" cy="21.94" r="1.1"/><circle cx="504.73" cy="21.95" r="1.1"/><circle cx="506.62" cy="22.21" r="1.1"/><circle cx="508.51" cy="21.9" r="1.1"/><circle cx="510.41" cy="21.95" r="1.1"/><circle cx="512.3" cy="22" r="1.1"/></g>
<g fill="none" stroke="#efcba5" stroke-width="0.7"><circle cx="324.9" cy="20.62" r="1.1"/><circle cx="326.79" cy="19.57" r="1.1"/><circle cx="328.69" cy="18.99" r="1.1"/><circle cx="330.58" cy="18.75" r="1.1"/><circle cx="332.47" cy="17.58" r="1.1"/><circle cx="334.36" cy="16.89" r="1.1"/><circle cx="336.26" cy="17.46" r="1.1"/><circle cx="338.15" cy="16.92" r="1.1"/><circle cx="340.04" cy="17.34" r="1.1"/><circle cx="341.94" cy="17.29" r="1.1"/><circle cx="343.83" cy="16.93" r="1.1"/><circle cx="345.72" cy="17.05" r="1.1"/><circle cx="347.62" cy="17.56" r="1.1"/><circle cx="349.51" cy="17.37" r="1.1"/><circle cx="351.4" cy="17.32" r="1.1"/><circle cx="353.29" cy="17.46" r="1.1"/><circle cx="355.19" cy="17.58" r="1.1"/><circle cx="357.08" cy="17.49" r="1.1"/><circle cx="358.97" cy="17.21" r="1.1"/><circle cx="360.87" cy="17.74" r="1.1"/><circle cx="362.76" cy="17.35" r="1.1"/><circle cx="364.65" cy="17.44" r="1.1"/><circle cx="366.54" cy="17.77" r="1.1"/><circle cx="368.44" cy="17.55" r="1.1"/><circle cx="370.33" cy="17.34" r="1.1"/><circle cx="372.22" cy="17.43" r="1.1"/><circle cx="374.12" cy="17.77" r="1.1"/><circle cx="376.01" cy="17.1" r="1.1"/><circle cx="377.9" cy="17.26" r="1.1"/><circle cx="379.79" cy="17.13" r="1.1"/><circle cx="381.69" cy="17.79" r="1.1"/><circle cx="383.58" cy="17.68" r="1.1"/><circle cx="385.47" cy="17.85" r="1.1"/><circle cx="387.37" cy="17.31" r="1.1"/><circle cx="389.26" cy="17.7" r="1.1"/><circle cx="391.15" cy="17.82" r="1.1"/><circle cx="393.05" cy="17.61" r="1.1"/><circle cx="394.94" cy="17.26" r="1.1"/><circle cx="396.83" cy="17.34" r="1.1"/><circle cx="398.72" cy="17.76" r="1.1"/><circle cx="400.62" cy="17.85" r="1.1"/><circle cx="402.51" cy="17.29" r="1.1"/><circle cx="404.4" cy="17.56" r="1.1"/><circle cx="406.3" cy="17.47" r="1.1"/><circle cx="408.19" cy="17.94" r="1.1"/><circle cx="410.08" cy="17.97" r="1.1"/><circle cx="411.97" cy="17.51" r="1.1"/><circle cx="413.87" cy="17.72" r="1.1"/><circle cx="415.76" cy="17.99" r="1.1"/><circle cx="417.65" cy="17.36" r="1.1"/><circle cx="419.55" cy="17.59" r="1.1"/><circle cx="421.44" cy="17.48" r="1.1"/><circle cx="423.33" cy="18.02" r="1.1"/><circle cx="425.23" cy="17.46" r="1.1"/><circle cx="427.12" cy="18.05" r="1.1"/><circle cx="429.01" cy="17.47" r="1.1"/><circle cx="430.9" cy="17.78" r="1.1"/><circle cx="432.8" cy="17.88" r="1.1"/><circle cx="434.69" cy="17.73" r="1.1"/><circle cx="436.58" cy="17.46" r="1.1"/><circle cx="438.48" cy="17.95" r="1.1"/><circle cx="440.37" cy="18.07" r="1.1"/><circle cx="442.26" cy="17.78" r="1.1"/><circle cx="444.15" cy="18" r="1.1"/><circle cx="446.05" cy="18.11" r="1.1"/><circle cx="447.94" cy="18.08" r="1.1"/><circle cx="449.83" cy="18.17" r="1.1"/><circle cx="451.73" cy="18.07" r="1.1"/><circle cx="453.62" cy="17.99" r="1.1"/><circle cx="455.51" cy="18.01" r="1.1"/><circle cx="457.41" cy="17.68" r="1.1"/><circle cx="459.3" cy="18.04" r="1.1"/><circle cx="461.19" cy="17.89" r="1.1"/><circle cx="463.08" cy="18.14" r="1.1"/><circle cx="464.98" cy="18.02" r="1.1"/><circle cx="466.87" cy="18.27" r="1.1"/><circle cx="468.76" cy="18.11" r="1.1"/><circle cx="470.66" cy="18.29" r="1.1"/><circle cx="472.55" cy="17.77" r="1.1"/><circle cx="474.44" cy="17.91" r="1.1"/><circle cx="476.33" cy="18.19" r="1.1"/><circle cx="478.23" cy="17.99" r="1.1"/><circle cx="480.12" cy="17.66" r="1.1"/><circle cx="482.01" cy="18.28" r="1.1"/><circle cx="483.91" cy="17.76" r="1.1"/><circle cx="485.8" cy="18.06" r="1.1"/><circle cx="487.69" cy="18.02" r="1.1"/><circle cx="489.58" cy="17.77" r="1.1"/><circle cx="491.48" cy="18.11" r="1.1"/><circle cx="493.37" cy="18.04" r="1.1"/><circle cx="495.26" cy="17.91" r="1.1"/><circle cx="497.16" cy="17.7" r="1.1"/><circle cx="499.05" cy="18.18" r="1.1"/><circle cx="500.94" cy="17.83" r="1.1"/><circle cx="502.84" cy="17.93" r="1.1"/><circle cx="504.73" cy="17.99" r="1.1"/><circle cx="506.62" cy="18.17" r="1.1"/><circle cx="508.51" cy="18.23" r="1.1"/><circle cx="510.41" cy="18.45" r="1.1"/><circle cx="512.3" cy="18.41" r="1.1"/></g>
<polyline points="324.9,65.55 325.85,65.3 326.79,65.69 327.74,65.86 328.69,66.02 329.63,65.72 330.58,65.83 331.53,66.06 332.47,66.4 333.42,66.54 334.36,66.63 335.31,66.67 336.26,67.01 337.2,67.03 338.15,67.31 339.1,67.1 340.04,67.27 340.99,67.69 341.94,68.03 342.88,67.81 343.83,68.35 344.78,68.5 345.72,68.88 346.67,68.84 347.62,68.97 348.56,69.21 349.51,69.69 350.45,69.84 351.4,70.43 352.35,70.6 353.29,71.01 354.24,71.15 355.19,71.67 356.13,71.99 357.08,72.15 358.03,72.5 358.97,72.62 359.92,72.97 360.87,73.16 361.81,73.57 362.76,73.9 363.71,74.17 364.65,74.81 365.6,75.2 366.54,75.2 367.49,76.03 368.44,76.07 369.38,76.48 370.33,77.17 371.28,77.09 372.22,77.39 373.17,77.75 374.12,77.9 375.06,78.07 376.01,78.66 376.96,78.65 377.9,78.87 378.85,78.9 379.79,79.13 380.74,79.33 381.69,79.67 382.63,79.71 383.58,80.04 384.53,80.24 385.47,80.71 386.42,81.04 387.37,81.19 388.31,81.27 389.26,81.63 390.21,81.43 391.15,81.8 392.1,81.97 393.05,82.18 393.99,82.36 394.94,82.68 395.88,83.16 396.83,82.93 397.78,83.16 398.72,83.51 399.67,83.77 400.62,83.98 401.56,84.59 402.51,84.5 403.46,85.05 404.4,85.42 405.35,85.6 406.3,85.62 407.24,86.19 408.19,86.17 409.14,86.31 410.08,86.86 411.03,87.2 411.97,87.43 412.92,87.59 413.87,87.82 414.81,88.19 415.76,88.45 416.71,88.85 417.65,88.9 418.6,88.93 419.55,88.74 420.49,89.08 421.44,89.02 422.39,89.41 423.33,89.47 424.28,89.45 425.23,89.31 426.17,89.38 427.12,89.48 428.06,89.78 429.01,89.75 429.96,89.86 430.9,89.95 431.85,90.23 432.8,89.89 433.74,90.36 434.69,90.01 435.64,90.12 436.58,90.72 437.53,90.57 438.48,90.45 439.42,90.46 440.37,90.83 441.32,91.02 442.26,91.14 443.21,90.82 444.15,91.32 445.1,91.2 446.05,91.53 446.99,91.4 447.94,91.25 448.89,91.8 449.83,91.5 450.78,91.76 451.73,91.64 452.67,91.83 453.62,92.18 454.57,91.9 455.51,92.21 456.46,92.56 457.41,92.66 458.35,92.47 459.3,92.58 460.24,92.75 461.19,92.93 462.14,92.9 463.08,93.01 464.03,92.8 464.98,93.36 465.92,92.97 466.87,92.95 467.82,93.38 468.76,92.96 469.71,93.11 470.66,93.03 471.6,93.41 472.55,93.39 473.49,93.41 474.44,93.1 475.39,93.36 476.33,93.51 477.28,93.51 478.23,93.62 479.17,93.78 480.12,93.78 481.07,93.4 482.01,93.73 482.96,93.4 483.91,93.81 484.85,93.83 485.8,93.73 486.75,93.94 487.69,93.86 488.64,93.57 489.58,93.64 490.53,93.71 491.48,93.84 492.42,93.71 493.37,93.73 494.32,93.97 495.26,93.91 496.21,94.31 497.16,93.96 498.1,94.15 499.05,94.01 500,94.1 500.94,94.33 501.89,94.49 502.84,94.03 503.78,94.51 504.73,94.34 505.67,94.45 506.62,94.5 507.57,94.28 508.51,94.18 509.46,94.61 510.41,94.42 511.35,94.65 512.3,94.53" fill="none" stroke="#353535" stroke-width="2.9" stroke-linejoin="round" stroke-linecap="round" />
<polyline points="324.9,62.77 325.85,63.14 326.79,63.38 327.74,63.6 328.69,63.45 329.63,63.92 330.58,64.31 331.53,64.17 332.47,64.36 333.42,64.9 334.36,65.32 335.31,65.54 336.26,65.87 337.2,66.01 338.15,66.43 339.1,66.63 340.04,66.9 340.99,67.01 341.94,67.11 342.88,67.47 343.83,67.94 344.78,68.21 345.72,68.43 346.67,68.8 347.62,69.1 348.56,69.53 349.51,69.7 350.45,69.6 351.4,70.36 352.35,70.44 353.29,70.65 354.24,70.81 355.19,71.46 356.13,71.71 357.08,72.01 358.03,72.21 358.97,72.48 359.92,72.48 360.87,72.82 361.81,73.09 362.76,73.84 363.71,74.11 364.65,74 365.6,74.18 366.54,74.69 367.49,74.9 368.44,75.5 369.38,75.56 370.33,75.54 371.28,75.87 372.22,76.1 373.17,76.2 374.12,76.77 375.06,77.02 376.01,77.15 376.96,77.11 377.9,77.19 378.85,77.21 379.79,77.5 380.74,77.7 381.69,77.8 382.63,78.14 383.58,78.25 384.53,78.7 385.47,78.45 386.42,78.92 387.37,78.71 388.31,79.02 389.26,79.38 390.21,79.64 391.15,79.74 392.1,79.69 393.05,79.82 393.99,80.31 394.94,80.5 395.88,80.41 396.83,80.54 397.78,80.82 398.72,81.07 399.67,81.03 400.62,81.52 401.56,81.52 402.51,81.6 403.46,81.49 404.4,81.83 405.35,81.86 406.3,82.25 407.24,82.55 408.19,82.71 409.14,82.47 410.08,82.78 411.03,83.17 411.97,83.49 412.92,83.39 413.87,83.46 414.81,83.77 415.76,84.02 416.71,83.87 417.65,83.8 418.6,84.26 419.55,84.45 420.49,84.35 421.44,84.38 422.39,84.31 423.33,84.65 424.28,84.4 425.23,84.5 426.17,84.71 427.12,84.95 428.06,84.6 429.01,85.04 429.96,84.83 430.9,85.24 431.85,85.32 432.8,85.09 433.74,85.43 434.69,85.13 435.64,85.46 436.58,85.71 437.53,85.77 438.48,85.73 439.42,85.67 440.37,85.59 441.32,85.9 442.26,85.64 443.21,85.61 444.15,85.05 445.1,85.39 446.05,85.31 446.99,85.17 447.94,84.86 448.89,84.44 449.83,84.32 450.78,84.49 451.73,84.42 452.67,84.54 453.62,84.96 454.57,85.12 455.51,84.78 456.46,84.97 457.41,85.45 458.35,85.18 459.3,85.42 460.24,85.5 461.19,85.6 462.14,85.78 463.08,85.95 464.03,85.88 464.98,85.92 465.92,85.62 466.87,86.12 467.82,85.68 468.76,86.14 469.71,86.09 470.66,85.87 471.6,85.9 472.55,86.16 473.49,86.4 474.44,86.2 475.39,86.3 476.33,86.03 477.28,86.47 478.23,86.41 479.17,86.14 480.12,86.66 481.07,86.49 482.01,86.3 482.96,86.36 483.91,86.8 484.85,86.84 485.8,86.86 486.75,86.41 487.69,86.82 488.64,86.58 489.58,86.53 490.53,86.88 491.48,86.95 492.42,86.6 493.37,86.83 494.32,87.06 495.26,86.84 496.21,87.1 497.16,87.16 498.1,87.35 499.05,86.96 500,86.91 500.94,87.1 501.89,86.97 502.84,87.51 503.78,87.43 504.73,87.33 505.67,87.1 506.62,87.14 507.57,87.49 508.51,87.6 509.46,87.53 510.41,87.53 511.35,87.33 512.3,87.78" fill="none" stroke="#f5545a" stroke-width="2.9" stroke-linejoin="round" stroke-linecap="round" />
<polyline points="324.9,44.52 325.85,45.12 326.79,45.63 327.74,46.18 328.69,46.8 329.63,47.48 330.58,47.84 331.53,48.17 332.47,48.29 333.42,49.03 334.36,49.32 335.31,49.33 336.26,49.82 337.2,50.14 338.15,50.37 339.1,50.29 340.04,50.63 340.99,50.47 341.94,50.74 342.88,50.89 343.83,51.51 344.78,51.82 345.72,52.02 346.67,52.01 347.62,52.11 348.56,52.41 349.51,52.66 350.45,52.68 351.4,52.69 352.35,52.78 353.29,52.87 354.24,52.94 355.19,53.16 356.13,53.59 357.08,53.31 358.03,53.74 358.97,53.71 359.92,53.95 360.87,53.87 361.81,54.29 362.76,54.39 363.71,54.51 364.65,54.69 365.6,54.41 366.54,54.7 367.49,54.97 368.44,55.05 369.38,54.84 370.33,55.24 371.28,55.52 372.22,55.35 373.17,55.72 374.12,55.82 375.06,56.6 376.01,56.68 376.96,56.77 377.9,57.92 378.85,58.21 379.79,57.77 380.74,57.33 381.69,57.56 382.63,57.64 383.58,57.34 384.53,57.68 385.47,57.62 386.42,58.06 387.37,57.91 388.31,58.27 389.26,58.5 390.21,58.34 391.15,58.38 392.1,58.98 393.05,58.83 393.99,58.95 394.94,59.3 395.88,59.34 396.83,59.6 397.78,59.69 398.72,59.79 399.67,59.73 400.62,59.83 401.56,60.21 402.51,60.44 403.46,60.39 404.4,60.33 405.35,60.73 406.3,60.79 407.24,60.98 408.19,60.77 409.14,61.04 410.08,61.44 411.03,61.55 411.97,61.51 412.92,61.55 413.87,61.63 414.81,62.07 415.76,62.15 416.71,61.96 417.65,62.23 418.6,62.4 419.55,62.5 420.49,62.24 421.44,62.7 422.39,62.67 423.33,62.89 424.28,62.96 425.23,62.82 426.17,62.85 427.12,63.31 428.06,63.51 429.01,63.32 429.96,63.71 430.9,63.93 431.85,63.53 432.8,63.91 433.74,63.79 434.69,64.13 435.64,63.97 436.58,64.31 437.53,64.58 438.48,64.77 439.42,64.57 440.37,64.63 441.32,64.58 442.26,65.15 443.21,64.95 444.15,65.2 445.1,65.23 446.05,65.54 446.99,65.57 447.94,65.54 448.89,65.42 449.83,65.98 450.78,65.87 451.73,65.8 452.67,65.82 453.62,66.35 454.57,66.5 455.51,66.15 456.46,66.23 457.41,66.61 458.35,66.96 459.3,66.58 460.24,66.98 461.19,66.8 462.14,67.06 463.08,67.06 464.03,67.53 464.98,67.29 465.92,67.71 466.87,67.72 467.82,67.58 468.76,67.7 469.71,68.17 470.66,68.26 471.6,68.27 472.55,68.31 473.49,68.5 474.44,68.75 475.39,68.79 476.33,68.64 477.28,68.65 478.23,69.24 479.17,69.06 480.12,69.06 481.07,69.57 482.01,69.23 482.96,69.74 483.91,69.58 484.85,69.72 485.8,69.79 486.75,70.08 487.69,70.12 488.64,70.14 489.58,70.34 490.53,70.32 491.48,70.54 492.42,70.66 493.37,71 494.32,70.78 495.26,70.96 496.21,71.21 497.16,71.03 498.1,71.13 499.05,71.42 500,71.68 500.94,71.63 501.89,71.94 502.84,72.04 503.78,71.98 504.73,72.28 505.67,72.19 506.62,72.26 507.57,72.63 508.51,72.41 509.46,72.83 510.41,72.58 511.35,72.66 512.3,72.92" fill="none" stroke="#2a6099" stroke-width="2.9" stroke-linejoin="round" stroke-linecap="round" />
<polyline points="324.9,56.46 325.85,56.45 326.79,56.76 327.74,56.68 328.69,57.37 329.63,57.21 330.58,57.38 331.53,57.76 332.47,57.96 333.42,58.55 334.36,58.35 335.31,58.85 336.26,58.78 337.2,59 338.15,59.61 339.1,59.45 340.04,59.56 340.99,60.24 341.94,60.27 342.88,60.23 343.83,60.76 344.78,60.54 345.72,61.08 346.67,60.97 347.62,61.53 348.56,61.47 349.51,61.34 350.45,61.84 351.4,61.91 352.35,61.88 353.29,62.08 354.24,62.34 355.19,62.37 356.13,62.48 357.08,62.15 358.03,62.39 358.97,62.38 359.92,62.88 360.87,62.64 361.81,63.12 362.76,62.99 363.71,63.03 364.65,63.29 365.6,63.11 366.54,63.39 367.49,63.47 368.44,63.41 369.38,63.94 370.33,63.55 371.28,63.86 372.22,64.1 373.17,64.04 374.12,64.51 375.06,64.27 376.01,64.67 376.96,64.96 377.9,64.9 378.85,65.24 379.79,65.56 380.74,65.41 381.69,65.96 382.63,65.7 383.58,66.18 384.53,66.14 385.47,66.11 386.42,66.5 387.37,66.62 388.31,66.98 389.26,67.32 390.21,67.47 391.15,67.58 392.1,67.48 393.05,67.75 393.99,67.87 394.94,67.83 395.88,68.42 396.83,68.53 397.78,68.46 398.72,68.98 399.67,69.16 400.62,69.13 401.56,69.44 402.51,69.46 403.46,69.7 404.4,69.67 405.35,69.83 406.3,70.22 407.24,70.15 408.19,70.4 409.14,70.75 410.08,70.47 411.03,71.03 411.97,71.25 412.92,71.44 413.87,71.31 414.81,71.35 415.76,71.56 416.71,71.88 417.65,72.06 418.6,72.3 419.55,72.05 420.49,72.2 421.44,72.42 422.39,72.36 423.33,72.58 424.28,72.41 425.23,72.62 426.17,73 427.12,72.74 428.06,73.32 429.01,73.15 429.96,73.33 430.9,73.52 431.85,73.73 432.8,73.43 433.74,73.96 434.69,73.76 435.64,73.65 436.58,74.2 437.53,74.27 438.48,74.14 439.42,74.3 440.37,74.33 441.32,74.34 442.26,74.8 443.21,74.83 444.15,74.94 445.1,75.18 446.05,74.82 446.99,74.98 447.94,75.12 448.89,75.62 449.83,75.26 450.78,75.42 451.73,75.67 452.67,75.62 453.62,75.89 454.57,76.12 455.51,76.29 456.46,76.32 457.41,76.53 458.35,76.47 459.3,76.34 460.24,76.48 461.19,76.5 462.14,76.68 463.08,77.03 464.03,76.97 464.98,77.14 465.92,77 466.87,77.2 467.82,77.4 468.76,77.24 469.71,77.12 470.66,77.59 471.6,77.27 472.55,77.81 473.49,77.72 474.44,77.79 475.39,77.56 476.33,77.5 477.28,77.67 478.23,77.96 479.17,77.7 480.12,78.06 481.07,78.17 482.01,77.85 482.96,78.06 483.91,78.08 484.85,78.14 485.8,78.02 486.75,78.36 487.69,78.21 488.64,78.34 489.58,78.31 490.53,78.6 491.48,78.49 492.42,78.63 493.37,78.83 494.32,78.94 495.26,78.76 496.21,79.12 497.16,78.71 498.1,79.19 499.05,79.31 500,79.32 500.94,78.91 501.89,79.29 502.84,79.46 503.78,79.58 504.73,79.62 505.67,79.31 506.62,79.4 507.57,79.42 508.51,79.45 509.46,79.88 510.41,79.64 511.35,79.82 512.3,79.62" fill="none" stroke="#c8670f" stroke-width="2.9" stroke-linejoin="round" stroke-linecap="round" />
<path d="M350,74.7 C349,80 342,84.5 331,85.3" fill="none" stroke="#222" stroke-width="1"/>
<path d="M327,85.6 L333.5,83.6 L332.5,87.6 Z" fill="#111"/>
<path d="M486.6,26.9 C488,32 494,36 503,37.3" fill="none" stroke="#222" stroke-width="1"/>
<path d="M507.6,37.5 L501.5,35.6 L501.5,39.6 Z" fill="#111"/>
<text transform="translate(373,47) scale(1,1.08)" font-size="9.65" font-weight="bold" text-anchor="start" fill="#111" stroke="#111" stroke-width="0.3" >Current density 0.2 C</text>
<line x1="324.9" y1="10.7" x2="512.3" y2="10.7" stroke="#3c3c3c" stroke-width="1.25" />
<line x1="324.9" y1="10.7" x2="324.9" y2="159.3" stroke="#3c3c3c" stroke-width="1.25" />
<line x1="324.9" y1="159.3" x2="512.3" y2="159.3" stroke="#3c3c3c" stroke-width="1.25" />
<line x1="512.3" y1="10.7" x2="512.3" y2="159.3" stroke="#ff2020" stroke-width="1.25" />
<line x1="324.9" y1="159.3" x2="327.9" y2="159.3" stroke="#3c3c3c" stroke-width="1" />
<line x1="324.9" y1="150.01" x2="326.9" y2="150.01" stroke="#3c3c3c" stroke-width="1" />
<line x1="324.9" y1="140.73" x2="327.9" y2="140.73" stroke="#3c3c3c" stroke-width="1" />
<line x1="324.9" y1="131.44" x2="326.9" y2="131.44" stroke="#3c3c3c" stroke-width="1" />
<line x1="324.9" y1="122.15" x2="327.9" y2="122.15" stroke="#3c3c3c" stroke-width="1" />
<line x1="324.9" y1="112.86" x2="326.9" y2="112.86" stroke="#3c3c3c" stroke-width="1" />
<line x1="324.9" y1="103.58" x2="327.9" y2="103.58" stroke="#3c3c3c" stroke-width="1" />
<line x1="324.9" y1="94.29" x2="326.9" y2="94.29" stroke="#3c3c3c" stroke-width="1" />
<line x1="324.9" y1="85" x2="327.9" y2="85" stroke="#3c3c3c" stroke-width="1" />
<line x1="324.9" y1="75.71" x2="326.9" y2="75.71" stroke="#3c3c3c" stroke-width="1" />
<line x1="324.9" y1="66.42" x2="327.9" y2="66.42" stroke="#3c3c3c" stroke-width="1" />
<line x1="324.9" y1="57.14" x2="326.9" y2="57.14" stroke="#3c3c3c" stroke-width="1" />
<line x1="324.9" y1="47.85" x2="327.9" y2="47.85" stroke="#3c3c3c" stroke-width="1" />
<line x1="324.9" y1="38.56" x2="326.9" y2="38.56" stroke="#3c3c3c" stroke-width="1" />
<line x1="324.9" y1="29.28" x2="327.9" y2="29.28" stroke="#3c3c3c" stroke-width="1" />
<line x1="324.9" y1="19.99" x2="326.9" y2="19.99" stroke="#3c3c3c" stroke-width="1" />
<line x1="324.9" y1="10.7" x2="327.9" y2="10.7" stroke="#3c3c3c" stroke-width="1" />
<line x1="341.94" y1="159.3" x2="341.94" y2="157.3" stroke="#3c3c3c" stroke-width="1" />
<line x1="360.87" y1="159.3" x2="360.87" y2="156.3" stroke="#3c3c3c" stroke-width="1" />
<line x1="379.79" y1="159.3" x2="379.79" y2="157.3" stroke="#3c3c3c" stroke-width="1" />
<line x1="398.72" y1="159.3" x2="398.72" y2="156.3" stroke="#3c3c3c" stroke-width="1" />
<line x1="417.65" y1="159.3" x2="417.65" y2="157.3" stroke="#3c3c3c" stroke-width="1" />
<line x1="436.58" y1="159.3" x2="436.58" y2="156.3" stroke="#3c3c3c" stroke-width="1" />
<line x1="455.51" y1="159.3" x2="455.51" y2="157.3" stroke="#3c3c3c" stroke-width="1" />
<line x1="474.44" y1="159.3" x2="474.44" y2="156.3" stroke="#3c3c3c" stroke-width="1" />
<line x1="493.37" y1="159.3" x2="493.37" y2="157.3" stroke="#3c3c3c" stroke-width="1" />
<line x1="512.3" y1="159.3" x2="512.3" y2="156.3" stroke="#3c3c3c" stroke-width="1" />
<line x1="512.3" y1="159.3" x2="509.3" y2="159.3" stroke="#ff2020" stroke-width="1" />
<line x1="512.3" y1="144.44" x2="510.3" y2="144.44" stroke="#ff2020" stroke-width="1" />
<line x1="512.3" y1="129.58" x2="509.3" y2="129.58" stroke="#ff2020" stroke-width="1" />
<line x1="512.3" y1="114.72" x2="510.3" y2="114.72" stroke="#ff2020" stroke-width="1" />
<line x1="512.3" y1="99.86" x2="509.3" y2="99.86" stroke="#ff2020" stroke-width="1" />
<line x1="512.3" y1="85" x2="510.3" y2="85" stroke="#ff2020" stroke-width="1" />
<line x1="512.3" y1="70.14" x2="509.3" y2="70.14" stroke="#ff2020" stroke-width="1" />
<line x1="512.3" y1="55.28" x2="510.3" y2="55.28" stroke="#ff2020" stroke-width="1" />
<line x1="512.3" y1="40.42" x2="509.3" y2="40.42" stroke="#ff2020" stroke-width="1" />
<line x1="512.3" y1="25.56" x2="510.3" y2="25.56" stroke="#ff2020" stroke-width="1" />
<line x1="512.3" y1="10.7" x2="509.3" y2="10.7" stroke="#ff2020" stroke-width="1" />
<text transform="translate(321.8,162.6) scale(1,1.08)" font-size="9.2" font-weight="bold" text-anchor="end" fill="#111" stroke="#111" stroke-width="0.3" >0</text>
<text transform="translate(321.8,144.03) scale(1,1.08)" font-size="9.2" font-weight="bold" text-anchor="end" fill="#111" stroke="#111" stroke-width="0.3" >200</text>
<text transform="translate(321.8,125.45) scale(1,1.08)" font-size="9.2" font-weight="bold" text-anchor="end" fill="#111" stroke="#111" stroke-width="0.3" >400</text>
<text transform="translate(321.8,106.88) scale(1,1.08)" font-size="9.2" font-weight="bold" text-anchor="end" fill="#111" stroke="#111" stroke-width="0.3" >600</text>
<text transform="translate(321.8,88.3) scale(1,1.08)" font-size="9.2" font-weight="bold" text-anchor="end" fill="#111" stroke="#111" stroke-width="0.3" >800</text>
<text transform="translate(321.8,69.72) scale(1,1.08)" font-size="9.2" font-weight="bold" text-anchor="end" fill="#111" stroke="#111" stroke-width="0.3" >1000</text>
<text transform="translate(321.8,51.15) scale(1,1.08)" font-size="9.2" font-weight="bold" text-anchor="end" fill="#111" stroke="#111" stroke-width="0.3" >1200</text>
<text transform="translate(321.8,32.58) scale(1,1.08)" font-size="9.2" font-weight="bold" text-anchor="end" fill="#111" stroke="#111" stroke-width="0.3" >1400</text>
<text transform="translate(321.8,14) scale(1,1.08)" font-size="9.2" font-weight="bold" text-anchor="end" fill="#111" stroke="#111" stroke-width="0.3" >1600</text>
<text transform="translate(360.87,170.6) scale(1,1.08)" font-size="9.2" font-weight="bold" text-anchor="middle" fill="#111" stroke="#111" stroke-width="0.3" >20</text>
<text transform="translate(398.72,170.6) scale(1,1.08)" font-size="9.2" font-weight="bold" text-anchor="middle" fill="#111" stroke="#111" stroke-width="0.3" >40</text>
<text transform="translate(436.58,170.6) scale(1,1.08)" font-size="9.2" font-weight="bold" text-anchor="middle" fill="#111" stroke="#111" stroke-width="0.3" >60</text>
<text transform="translate(474.44,170.6) scale(1,1.08)" font-size="9.2" font-weight="bold" text-anchor="middle" fill="#111" stroke="#111" stroke-width="0.3" >80</text>
<text transform="translate(512.3,170.6) scale(1,1.08)" font-size="9.2" font-weight="bold" text-anchor="middle" fill="#111" stroke="#111" stroke-width="0.3" >100</text>
<text transform="translate(516,163) scale(1,1.08)" font-size="9.6" font-weight="bold" text-anchor="start" fill="#ff1a1a" stroke="#ff1a1a" stroke-width="0.3" >0</text>
<text transform="translate(516,133.28) scale(1,1.08)" font-size="9.6" font-weight="bold" text-anchor="start" fill="#ff1a1a" stroke="#ff1a1a" stroke-width="0.3" >20</text>
<text transform="translate(516,103.56) scale(1,1.08)" font-size="9.6" font-weight="bold" text-anchor="start" fill="#ff1a1a" stroke="#ff1a1a" stroke-width="0.3" >40</text>
<text transform="translate(516,73.84) scale(1,1.08)" font-size="9.6" font-weight="bold" text-anchor="start" fill="#ff1a1a" stroke="#ff1a1a" stroke-width="0.3" >60</text>
<text transform="translate(516,44.12) scale(1,1.08)" font-size="9.6" font-weight="bold" text-anchor="start" fill="#ff1a1a" stroke="#ff1a1a" stroke-width="0.3" >80</text>
<text transform="translate(516,14.4) scale(1,1.08)" font-size="9.6" font-weight="bold" text-anchor="start" fill="#ff1a1a" stroke="#ff1a1a" stroke-width="0.3" >100</text>
<text transform="translate(293.9,161.5) rotate(-90)" font-size="12.65" font-weight="bold" text-anchor="start" fill="#111" stroke="#111" stroke-width="0.3">Specific capacity (mAh/g)</text>
<text transform="translate(545.1,158.5) rotate(-90)" font-size="12.6" font-weight="bold" text-anchor="start" fill="#ff1a1a" stroke="#ff1a1a" stroke-width="0.3">Coulombic efficiency (%)</text>
<text x="377.6" y="189.2" font-size="12.4" font-weight="bold" text-anchor="start" fill="#111" stroke="#111" stroke-width="0.3" >Cycle number</text>
<line x1="328.3" y1="107.4" x2="350.1" y2="107.4" stroke="#8a8a8a" stroke-width="1.6" />
<g fill="#353535"><circle cx="339.5" cy="107.4" r="1.7"/></g>
<text x="353.2" y="111" font-size="9.6" font-weight="bold" fill="#111" stroke="#111" stroke-width="0.3">CeO<tspan font-size="6.8" dy="2.6">2</tspan><tspan dy="-2.6">-25</tspan></text>
<line x1="328.3" y1="121.7" x2="350.1" y2="121.7" stroke="#f79aa0" stroke-width="1.6" />
<g fill="#f5545a"><circle cx="339.5" cy="121.7" r="1.7"/></g>
<text x="353.2" y="125.3" font-size="9.6" font-weight="bold" fill="#111" stroke="#111" stroke-width="0.3">CeO<tspan font-size="6.8" dy="2.6">2</tspan><tspan dy="-2.6">-50</tspan></text>
<line x1="328.3" y1="135.9" x2="350.1" y2="135.9" stroke="#8fb3d6" stroke-width="1.6" />
<g fill="#2a6099"><circle cx="339.5" cy="135.9" r="1.7"/></g>
<text x="353.2" y="139.5" font-size="9.6" font-weight="bold" fill="#111" stroke="#111" stroke-width="0.3">CeO<tspan font-size="6.8" dy="2.6">2</tspan><tspan dy="-2.6">-75</tspan></text>
<line x1="328.3" y1="150.1" x2="350.1" y2="150.1" stroke="#dea36e" stroke-width="1.6" />
<g fill="#c8670f"><circle cx="339.5" cy="150.1" r="1.7"/></g>
<text x="353.2" y="153.7" font-size="9.6" font-weight="bold" fill="#111" stroke="#111" stroke-width="0.3">CeO<tspan font-size="6.8" dy="2.6">2</tspan><tspan dy="-2.6">-100</tspan></text>
<text transform="translate(2,215.5) scale(1,0.92)" font-size="19.5" font-weight="normal" text-anchor="start" fill="#1a1a1a" stroke="#1a1a1a" stroke-width="0.3" >(c)</text>
<polyline points="81.87,277.78 82.91,277.65 85.67,277.33 89.55,276.88 93.99,276.39 98.41,275.92 102.23,275.56 105.44,275.32 108.66,275.12 111.85,274.94 115,274.78 118.07,274.63 121.03,274.45 123.52,274.31 125.98,274.19 128.38,274.06 130.7,273.92 132.9,273.75 134.98,273.53 136.47,273.36 137.91,273.19 139.28,273.01 140.58,272.78 141.82,272.47 142.97,272.05 143.88,271.62 144.72,271.13 145.52,270.58 146.27,269.98 146.98,269.3 147.67,268.54 148.44,267.53 149.15,266.42 149.8,265.2 150.42,263.88 151.01,262.47 151.58,260.97 152.35,258.59 153.05,255.9 153.7,253.03 154.31,250.07 154.9,247.14 155.5,244.34 156.04,241.77 156.53,239.15 157.02,236.56 157.51,234.06 158.04,231.7 158.63,229.56 159.11,228 159.6,226.36 160.11,224.81 160.65,223.48 161.2,222.55 161.77,222.17 162.27,222.35 162.8,222.92 163.35,223.76 163.89,224.76 164.42,225.81 164.9,226.79 165.44,228.02 165.93,229.39 166.38,230.84 166.82,232.29 167.26,233.67 167.72,234.92 168.07,235.81 168.41,236.7 168.75,237.54 169.11,238.31 169.49,238.99 169.91,239.54 170.23,239.86 170.58,240.17 170.94,240.43 171.3,240.62 171.64,240.7 171.95,240.65 172.5,239.62 172.92,237.51 173.25,234.88 173.53,232.3 173.81,230.34 174.14,229.56 174.49,230.03 174.85,231.28 175.21,233.07 175.56,235.14 175.88,237.26 176.18,239.17 176.46,241.18 176.69,243.28 176.9,245.43 177.1,247.6 177.32,249.77 177.59,251.91 177.87,254.11 178.14,256.38 178.44,258.64 178.78,260.83 179.22,262.86 179.78,264.66 180.25,265.82 180.74,266.9 181.28,267.89 181.89,268.8 182.58,269.64 183.39,270.39 184.4,271.11 185.54,271.72 186.78,272.23 188.12,272.66 189.55,273.02 191.06,273.35 193.33,273.66 195.78,273.8 198.41,273.82 201.2,273.77 204.13,273.72 207.2,273.72 212.55,273.77 219.2,273.81 226.14,273.83 232.35,273.85 236.82,273.87 238.53,273.9 236.83,273.93 232.39,273.96 226.2,273.99 219.28,274.02 212.61,274.05 207.2,274.08 203.98,274.11 200.91,274.12 197.98,274.14 195.19,274.16 192.52,274.2 189.97,274.27 188.08,274.32 186.27,274.35 184.53,274.4 182.87,274.48 181.28,274.61 179.78,274.82 178.68,275.03 177.62,275.25 176.62,275.5 175.66,275.81 174.73,276.19 173.83,276.67 172.9,277.31 172.01,278.06 171.16,278.89 170.35,279.79 169.57,280.72 168.82,281.66 168.09,282.72 167.43,283.89 166.81,285.11 166.19,286.27 165.56,287.31 164.9,288.13 164.45,288.55 163.99,288.93 163.53,289.25 163.06,289.51 162.58,289.69 162.08,289.79 161.53,289.8 160.95,289.72 160.35,289.57 159.76,289.34 159.18,289.04 158.63,288.68 157.96,288.05 157.33,287.23 156.72,286.29 156.13,285.31 155.52,284.36 154.87,283.51 154.26,282.78 153.66,282.06 153.05,281.36 152.4,280.71 151.71,280.12 150.96,279.63 150.09,279.22 149.17,278.91 148.2,278.67 147.18,278.48 146.11,278.32 145,278.15 143.47,277.94 141.8,277.76 140.06,277.62 138.3,277.52 136.59,277.45 134.98,277.41 133.62,277.36 132.23,277.26 130.88,277.2 129.61,277.22 128.51,277.39 127.61,277.78 127.1,278.24 126.73,278.81 126.44,279.47 126.21,280.21 125.99,281.01 125.73,281.84 125.3,283.3 124.89,284.98 124.51,286.8 124.13,288.69 123.76,290.57 123.38,292.38 123.02,294.06 122.67,295.71 122.32,297.35 121.97,299.02 121.6,300.74 121.19,302.54 120.66,305.18 120.09,308.34 119.5,311.58 118.88,314.45 118.24,316.51 117.59,317.32 117.01,316.81 116.41,315.44 115.8,313.5 115.18,311.27 114.57,309.06 113.98,307.16 113.44,305.58 112.9,304 112.37,302.43 111.85,300.89 111.34,299.38 110.85,297.92 110.46,296.68 110.1,295.47 109.76,294.29 109.39,293.13 108.98,292 108.5,290.9 107.95,289.83 107.35,288.77 106.71,287.73 106.03,286.74 105.32,285.82 104.58,284.99 103.94,284.34 103.3,283.76 102.63,283.24 101.92,282.75 101.17,282.29 100.35,281.84 99.27,281.34 98.1,280.89 96.85,280.49 95.55,280.12 94.21,279.77 92.83,279.44 90.88,279.05 88.53,278.67 86.12,278.32 83.98,278.04 82.45,277.85 81.87,277.78" fill="none" stroke="#353535" stroke-width="1.4" stroke-linejoin="round" stroke-linecap="round" />
<polyline points="81.87,277.78 82.91,277.65 85.67,277.33 89.55,276.88 93.99,276.39 98.41,275.92 102.23,275.56 105.44,275.32 108.66,275.13 111.85,274.96 115,274.8 118.07,274.64 121.03,274.45 123.52,274.29 125.98,274.14 128.38,273.98 130.7,273.81 132.91,273.6 134.98,273.35 136.47,273.15 137.92,272.97 139.29,272.77 140.6,272.51 141.83,272.16 142.97,271.68 143.9,271.16 144.77,270.55 145.57,269.88 146.32,269.13 147.02,268.32 147.67,267.43 148.35,266.28 148.92,265.02 149.43,263.66 149.89,262.22 150.33,260.7 150.8,259.12 151.43,256.92 152.04,254.53 152.63,252.02 153.2,249.45 153.74,246.87 154.25,244.34 154.71,241.76 155.11,239.09 155.48,236.41 155.86,233.81 156.27,231.37 156.75,229.19 157.13,227.7 157.51,226.14 157.92,224.67 158.34,223.42 158.79,222.54 159.26,222.17 159.65,222.3 160.06,222.72 160.49,223.36 160.92,224.15 161.35,225.01 161.77,225.87 162.45,227.49 163.11,229.47 163.77,231.65 164.42,233.88 165.06,236.01 165.68,237.87 166.13,239.12 166.55,240.35 166.97,241.51 167.4,242.59 167.85,243.54 168.35,244.34 168.7,244.81 169.08,245.27 169.47,245.69 169.85,246.01 170.21,246.19 170.54,246.19 171.08,245.15 171.49,242.89 171.81,240.04 172.09,237.22 172.38,235.06 172.73,234.18 172.99,234.38 173.27,234.94 173.54,235.77 173.82,236.76 174.07,237.8 174.3,238.8 174.58,240.26 174.79,241.87 174.98,243.6 175.15,245.42 175.33,247.28 175.55,249.14 175.82,251.45 176.07,253.92 176.33,256.46 176.65,258.95 177.06,261.29 177.59,263.37 178.04,264.76 178.5,266.08 179.01,267.32 179.61,268.47 180.32,269.49 181.19,270.39 182.32,271.19 183.62,271.82 185.06,272.31 186.61,272.71 188.26,273.04 189.97,273.35 192.43,273.65 195.07,273.79 197.88,273.81 200.85,273.76 203.96,273.71 207.2,273.72 212.61,273.77 219.28,273.8 226.2,273.83 232.39,273.85 236.83,273.87 238.53,273.9 236.83,273.93 232.39,273.96 226.2,273.99 219.28,274.02 212.61,274.05 207.2,274.08 203.98,274.11 200.91,274.12 197.98,274.14 195.19,274.16 192.52,274.2 189.97,274.27 188.08,274.32 186.25,274.35 184.5,274.39 182.83,274.47 181.26,274.6 179.78,274.82 178.75,275.03 177.78,275.25 176.85,275.51 175.98,275.82 175.13,276.2 174.3,276.67 173.43,277.31 172.6,278.06 171.81,278.9 171.05,279.8 170.31,280.73 169.6,281.66 168.89,282.72 168.22,283.91 167.57,285.13 166.95,286.3 166.32,287.32 165.68,288.13 165.29,288.51 164.91,288.86 164.53,289.16 164.14,289.39 163.75,289.55 163.33,289.6 162.84,289.53 162.32,289.32 161.79,289.01 161.26,288.62 160.72,288.2 160.2,287.76 159.55,287.12 158.91,286.37 158.28,285.55 157.64,284.7 156.98,283.88 156.28,283.14 155.56,282.44 154.83,281.76 154.07,281.09 153.29,280.48 152.46,279.92 151.58,279.44 150.6,279.04 149.57,278.73 148.49,278.5 147.37,278.31 146.2,278.14 145,277.96 143.43,277.76 141.72,277.59 139.95,277.45 138.19,277.34 136.51,277.27 134.98,277.23 133.91,277.17 132.87,277.09 131.88,277.03 130.95,277.03 130.1,277.14 129.34,277.41 128.76,277.78 128.25,278.25 127.81,278.8 127.41,279.44 127.03,280.14 126.67,280.92 126.15,282.4 125.74,284.16 125.4,286.11 125.1,288.18 124.81,290.3 124.48,292.38 124.09,294.72 123.72,297.13 123.36,299.6 122.98,302.11 122.58,304.63 122.13,307.16 121.59,310.23 120.99,313.8 120.36,317.38 119.72,320.53 119.11,322.75 118.53,323.6 118.06,322.94 117.61,321.2 117.18,318.76 116.75,315.97 116.31,313.22 115.86,310.85 115.43,308.93 114.98,307 114.52,305.1 114.07,303.24 113.63,301.46 113.2,299.76 112.9,298.49 112.64,297.28 112.38,296.12 112.1,294.98 111.76,293.86 111.32,292.74 110.73,291.55 110.05,290.34 109.29,289.16 108.5,288.01 107.7,286.92 106.93,285.91 106.35,285.13 105.79,284.38 105.23,283.67 104.63,283 103.96,282.39 103.17,281.84 101.99,281.25 100.64,280.78 99.17,280.39 97.62,280.06 96.01,279.75 94.4,279.44 92.16,279.05 89.47,278.67 86.72,278.32 84.28,278.04 82.53,277.85 81.87,277.78" fill="none" stroke="#f5545a" stroke-width="1.4" stroke-linejoin="round" stroke-linecap="round" />
<polyline points="81.87,277.78 82.91,277.65 85.67,277.33 89.55,276.88 93.99,276.39 98.41,275.92 102.23,275.56 105.44,275.32 108.66,275.12 111.85,274.94 115,274.78 118.07,274.63 121.03,274.45 123.52,274.31 125.98,274.18 128.38,274.05 130.7,273.9 132.9,273.74 134.98,273.53 136.47,273.38 137.9,273.24 139.28,273.1 140.58,272.9 141.81,272.63 142.97,272.24 143.87,271.83 144.72,271.38 145.52,270.87 146.27,270.3 146.98,269.65 147.67,268.91 148.45,267.88 149.16,266.73 149.81,265.46 150.42,264.08 151,262.58 151.58,260.97 152.43,258.11 153.21,254.75 153.94,251.13 154.63,247.48 155.3,244.03 155.97,241.01 156.42,239.14 156.83,237.34 157.24,235.63 157.66,234.06 158.12,232.64 158.63,231.41 159,230.68 159.4,229.94 159.81,229.27 160.22,228.73 160.62,228.37 160.98,228.27 161.37,228.53 161.73,229.15 162.07,230.03 162.39,231.08 162.71,232.18 163.02,233.25 163.46,234.92 163.86,236.81 164.24,238.84 164.63,240.92 165.05,242.97 165.53,244.89 166,246.61 166.49,248.34 167,250.04 167.55,251.67 168.15,253.17 168.82,254.5 169.38,255.46 170.02,256.45 170.68,257.38 171.33,258.13 171.93,258.62 172.42,258.75 172.79,258.43 173.09,257.71 173.33,256.74 173.54,255.65 173.75,254.55 173.99,253.58 174.25,252.59 174.52,251.46 174.78,250.33 175.05,249.35 175.3,248.66 175.55,248.4 175.89,249.16 176.17,251.08 176.43,253.74 176.72,256.71 177.09,259.57 177.59,261.89 178.05,263.39 178.55,264.83 179.09,266.21 179.7,267.49 180.39,268.64 181.19,269.65 181.95,270.39 182.75,271.02 183.61,271.55 184.56,272.01 185.62,272.42 186.83,272.79 189.41,273.3 192.48,273.57 195.92,273.67 199.6,273.68 203.4,273.67 207.2,273.72 212.76,273.81 219.47,273.86 226.36,273.87 232.48,273.88 236.86,273.88 238.53,273.9 236.83,273.93 232.39,273.96 226.2,273.99 219.28,274.02 212.61,274.05 207.2,274.08 203.99,274.09 200.94,274.09 198.03,274.08 195.24,274.09 192.56,274.15 189.97,274.27 187.89,274.37 185.83,274.43 183.84,274.53 181.97,274.71 180.29,275.04 178.84,275.56 178,276.08 177.28,276.68 176.66,277.36 176.09,278.09 175.52,278.86 174.93,279.63 174.23,280.55 173.56,281.57 172.9,282.62 172.24,283.66 171.56,284.65 170.85,285.54 170.22,286.3 169.56,287.1 168.9,287.87 168.23,288.51 167.57,288.93 166.94,289.05 166.24,288.71 165.58,287.94 164.92,286.89 164.26,285.71 163.58,284.53 162.86,283.51 162.11,282.55 161.37,281.55 160.61,280.57 159.79,279.64 158.89,278.82 157.85,278.15 156.43,277.58 154.84,277.22 153.12,277 151.32,276.88 149.49,276.78 147.67,276.67 145.58,276.53 143.35,276.43 141.09,276.37 138.88,276.35 136.81,276.39 134.98,276.49 133.87,276.53 132.81,276.54 131.82,276.57 130.9,276.69 130.07,276.95 129.34,277.41 128.62,278.27 128.09,279.38 127.69,280.71 127.37,282.21 127.05,283.84 126.67,285.54 126,288.78 125.37,292.58 124.76,296.73 124.16,301 123.55,305.16 122.91,309 122.34,312.42 121.73,316.21 121.12,319.92 120.53,323.11 119.97,325.35 119.47,326.18 119.11,325.62 118.8,324.12 118.51,321.97 118.23,319.44 117.93,316.81 117.59,314.36 117.09,311 116.59,307.21 116.06,303.24 115.47,299.34 114.78,295.76 113.98,292.74 113.41,291.14 112.8,289.68 112.15,288.33 111.47,287.11 110.78,286 110.07,284.99 109.57,284.33 109.09,283.75 108.6,283.22 108.07,282.74 107.47,282.29 106.78,281.84 105.57,281.24 104.19,280.7 102.65,280.23 101.01,279.8 99.29,279.42 97.53,279.07 94.81,278.68 91.47,278.36 88.01,278.11 84.93,277.93 82.72,277.82 81.87,277.78" fill="none" stroke="#2a6099" stroke-width="1.4" stroke-linejoin="round" stroke-linecap="round" />
<polyline points="81.87,277.78 82.91,277.65 85.67,277.33 89.55,276.88 93.99,276.39 98.41,275.92 102.23,275.56 105.44,275.32 108.66,275.12 111.85,274.94 115,274.78 118.07,274.63 121.03,274.45 123.52,274.31 125.98,274.19 128.38,274.06 130.7,273.92 132.9,273.75 134.98,273.53 136.49,273.37 137.96,273.24 139.36,273.08 140.68,272.87 141.89,272.54 142.97,272.05 143.73,271.53 144.37,270.93 144.94,270.25 145.47,269.5 146,268.68 146.57,267.8 147.45,266.41 148.34,264.84 149.23,263.13 150.11,261.34 150.95,259.49 151.74,257.64 152.55,255.52 153.31,253.26 154.03,250.94 154.71,248.64 155.35,246.41 155.97,244.34 156.38,242.77 156.71,241.22 157.02,239.72 157.37,238.3 157.83,237 158.48,235.84 159.25,234.85 160.19,233.86 161.21,232.95 162.26,232.23 163.25,231.81 164.12,231.78 164.98,232.44 165.73,233.78 166.41,235.54 167.05,237.44 167.68,239.23 168.35,240.65 168.81,241.39 169.27,242.08 169.72,242.72 170.18,243.31 170.66,243.84 171.17,244.34 171.64,244.78 172.14,245.23 172.65,245.66 173.16,245.99 173.66,246.18 174.14,246.19 174.78,245.66 175.4,244.59 176,243.25 176.57,241.95 177.11,240.99 177.59,240.64 178.07,241.11 178.48,242.22 178.83,243.78 179.15,245.58 179.46,247.44 179.78,249.14 180.16,251.16 180.49,253.34 180.81,255.59 181.14,257.83 181.52,259.96 181.98,261.89 182.33,263.26 182.66,264.59 183.02,265.84 183.46,267.02 184.03,268.11 184.8,269.1 185.94,270.1 187.32,270.97 188.88,271.72 190.56,272.36 192.3,272.9 194.04,273.35 196.01,273.68 198.01,273.83 200.09,273.84 202.29,273.78 204.65,273.72 207.2,273.72 212.37,273.77 218.97,273.81 225.95,273.84 232.24,273.86 236.78,273.87 238.53,273.9 236.83,273.93 232.39,273.96 226.2,273.99 219.28,274.02 212.61,274.05 207.2,274.08 203.98,274.11 200.91,274.13 197.98,274.15 195.19,274.18 192.52,274.22 189.97,274.27 188.08,274.29 186.27,274.29 184.53,274.29 182.86,274.32 181.28,274.43 179.78,274.64 178.67,274.86 177.62,275.11 176.62,275.4 175.66,275.74 174.73,276.16 173.83,276.67 172.9,277.32 172.02,278.07 171.16,278.91 170.35,279.8 169.57,280.72 168.82,281.66 168.1,282.72 167.46,283.91 166.85,285.13 166.24,286.3 165.6,287.33 164.9,288.13 164.36,288.55 163.8,288.91 163.22,289.2 162.63,289.42 162.04,289.55 161.45,289.6 160.85,289.56 160.22,289.42 159.59,289.19 158.98,288.89 158.39,288.53 157.85,288.13 157.28,287.53 156.79,286.79 156.33,285.96 155.88,285.11 155.41,284.27 154.87,283.51 154.29,282.79 153.7,282.07 153.08,281.37 152.42,280.71 151.72,280.13 150.96,279.63 150.09,279.21 149.17,278.9 148.2,278.66 147.18,278.47 146.11,278.31 145,278.15 143.46,277.97 141.78,277.84 140.03,277.76 138.26,277.7 136.56,277.65 134.98,277.6 133.77,277.49 132.58,277.33 131.43,277.17 130.33,277.08 129.31,277.14 128.4,277.41 127.64,277.86 126.98,278.44 126.38,279.15 125.83,279.97 125.31,280.87 124.79,281.84 124.06,283.55 123.42,285.56 122.85,287.77 122.31,290.08 121.77,292.39 121.19,294.59 120.61,296.75 120.05,298.98 119.49,301.2 118.9,303.35 118.28,305.36 117.59,307.16 117.03,308.43 116.44,309.74 115.83,310.99 115.2,312.03 114.58,312.77 113.98,313.07 113.53,312.95 113.08,312.59 112.64,312.04 112.2,311.36 111.76,310.64 111.32,309.93 110.68,308.83 110.03,307.58 109.39,306.21 108.77,304.77 108.15,303.28 107.56,301.8 106.95,300.06 106.39,298.22 105.86,296.33 105.3,294.44 104.68,292.61 103.96,290.9 103.22,289.38 102.46,287.88 101.65,286.43 100.75,285.07 99.76,283.83 98.63,282.77 97.33,281.89 95.86,281.18 94.29,280.6 92.67,280.11 91.07,279.68 89.54,279.26 88.06,278.89 86.38,278.54 84.72,278.24 83.27,278 82.25,277.84 81.87,277.78" fill="none" stroke="#c8670f" stroke-width="1.4" stroke-linejoin="round" stroke-linecap="round" />
<rect x="66.2" y="200.0" width="188.0" height="147.8" fill="none" stroke="#3a3a3a" stroke-width="1.15"/>
<line x1="66.2" y1="347.8" x2="69.2" y2="347.8" stroke="#3a3a3a" stroke-width="0.9" />
<line x1="66.2" y1="338.56" x2="68.2" y2="338.56" stroke="#3a3a3a" stroke-width="0.9" />
<line x1="66.2" y1="329.32" x2="69.2" y2="329.32" stroke="#3a3a3a" stroke-width="0.9" />
<line x1="66.2" y1="320.09" x2="68.2" y2="320.09" stroke="#3a3a3a" stroke-width="0.9" />
<line x1="66.2" y1="310.85" x2="69.2" y2="310.85" stroke="#3a3a3a" stroke-width="0.9" />
<line x1="66.2" y1="301.61" x2="68.2" y2="301.61" stroke="#3a3a3a" stroke-width="0.9" />
<line x1="66.2" y1="292.38" x2="69.2" y2="292.38" stroke="#3a3a3a" stroke-width="0.9" />
<line x1="66.2" y1="283.14" x2="68.2" y2="283.14" stroke="#3a3a3a" stroke-width="0.9" />
<line x1="66.2" y1="273.9" x2="69.2" y2="273.9" stroke="#3a3a3a" stroke-width="0.9" />
<line x1="66.2" y1="264.66" x2="68.2" y2="264.66" stroke="#3a3a3a" stroke-width="0.9" />
<line x1="66.2" y1="255.43" x2="69.2" y2="255.43" stroke="#3a3a3a" stroke-width="0.9" />
<line x1="66.2" y1="246.19" x2="68.2" y2="246.19" stroke="#3a3a3a" stroke-width="0.9" />
<line x1="66.2" y1="236.95" x2="69.2" y2="236.95" stroke="#3a3a3a" stroke-width="0.9" />
<line x1="66.2" y1="227.71" x2="68.2" y2="227.71" stroke="#3a3a3a" stroke-width="0.9" />
<line x1="66.2" y1="218.47" x2="69.2" y2="218.47" stroke="#3a3a3a" stroke-width="0.9" />
<line x1="66.2" y1="209.24" x2="68.2" y2="209.24" stroke="#3a3a3a" stroke-width="0.9" />
<line x1="66.2" y1="200" x2="69.2" y2="200" stroke="#3a3a3a" stroke-width="0.9" />
<line x1="66.2" y1="347.8" x2="66.2" y2="345.8" stroke="#3a3a3a" stroke-width="0.9" />
<line x1="81.87" y1="347.8" x2="81.87" y2="344.8" stroke="#3a3a3a" stroke-width="0.9" />
<line x1="97.53" y1="347.8" x2="97.53" y2="345.8" stroke="#3a3a3a" stroke-width="0.9" />
<line x1="113.2" y1="347.8" x2="113.2" y2="344.8" stroke="#3a3a3a" stroke-width="0.9" />
<line x1="128.87" y1="347.8" x2="128.87" y2="345.8" stroke="#3a3a3a" stroke-width="0.9" />
<line x1="144.53" y1="347.8" x2="144.53" y2="344.8" stroke="#3a3a3a" stroke-width="0.9" />
<line x1="160.2" y1="347.8" x2="160.2" y2="345.8" stroke="#3a3a3a" stroke-width="0.9" />
<line x1="175.87" y1="347.8" x2="175.87" y2="344.8" stroke="#3a3a3a" stroke-width="0.9" />
<line x1="191.53" y1="347.8" x2="191.53" y2="345.8" stroke="#3a3a3a" stroke-width="0.9" />
<line x1="207.2" y1="347.8" x2="207.2" y2="344.8" stroke="#3a3a3a" stroke-width="0.9" />
<line x1="222.87" y1="347.8" x2="222.87" y2="345.8" stroke="#3a3a3a" stroke-width="0.9" />
<line x1="238.53" y1="347.8" x2="238.53" y2="344.8" stroke="#3a3a3a" stroke-width="0.9" />
<text transform="translate(63,351.1) scale(1,1.08)" font-size="9.4" font-weight="bold" text-anchor="end" fill="#111" stroke="#111" stroke-width="0.3" >-4</text>
<text transform="translate(63,332.62) scale(1,1.08)" font-size="9.4" font-weight="bold" text-anchor="end" fill="#111" stroke="#111" stroke-width="0.3" >-3</text>
<text transform="translate(63,314.15) scale(1,1.08)" font-size="9.4" font-weight="bold" text-anchor="end" fill="#111" stroke="#111" stroke-width="0.3" >-2</text>
<text transform="translate(63,295.68) scale(1,1.08)" font-size="9.4" font-weight="bold" text-anchor="end" fill="#111" stroke="#111" stroke-width="0.3" >-1</text>
<text transform="translate(63,277.2) scale(1,1.08)" font-size="9.4" font-weight="bold" text-anchor="end" fill="#111" stroke="#111" stroke-width="0.3" >0</text>
<text transform="translate(63,258.73) scale(1,1.08)" font-size="9.4" font-weight="bold" text-anchor="end" fill="#111" stroke="#111" stroke-width="0.3" >1</text>
<text transform="translate(63,240.25) scale(1,1.08)" font-size="9.4" font-weight="bold" text-anchor="end" fill="#111" stroke="#111" stroke-width="0.3" >2</text>
<text transform="translate(63,221.78) scale(1,1.08)" font-size="9.4" font-weight="bold" text-anchor="end" fill="#111" stroke="#111" stroke-width="0.3" >3</text>
<text transform="translate(63,203.3) scale(1,1.08)" font-size="9.4" font-weight="bold" text-anchor="end" fill="#111" stroke="#111" stroke-width="0.3" >4</text>
<text transform="translate(81.87,359.7) scale(1,1.08)" font-size="9.2" font-weight="bold" text-anchor="middle" fill="#111" stroke="#111" stroke-width="0.3" >1.8</text>
<text transform="translate(113.2,359.7) scale(1,1.08)" font-size="9.2" font-weight="bold" text-anchor="middle" fill="#111" stroke="#111" stroke-width="0.3" >2.0</text>
<text transform="translate(144.53,359.7) scale(1,1.08)" font-size="9.2" font-weight="bold" text-anchor="middle" fill="#111" stroke="#111" stroke-width="0.3" >2.2</text>
<text transform="translate(175.87,359.7) scale(1,1.08)" font-size="9.2" font-weight="bold" text-anchor="middle" fill="#111" stroke="#111" stroke-width="0.3" >2.4</text>
<text transform="translate(207.2,359.7) scale(1,1.08)" font-size="9.2" font-weight="bold" text-anchor="middle" fill="#111" stroke="#111" stroke-width="0.3" >2.6</text>
<text transform="translate(238.53,359.7) scale(1,1.08)" font-size="9.2" font-weight="bold" text-anchor="middle" fill="#111" stroke="#111" stroke-width="0.3" >2.8</text>
<text transform="translate(44.6,330) rotate(-90)" font-size="12.6" font-weight="bold" text-anchor="start" fill="#111" stroke="#111" stroke-width="0.3">Current density (A/g)</text>
<text x="98.0" y="379.1" font-size="12.5" font-weight="bold" fill="#111" stroke="#111" stroke-width="0.3">Potential (V vs Li<tspan font-size="7.5" dy="-4.5">+</tspan><tspan dy="4.5">/Li)</tspan></text>
<text x="75" y="215.9" font-size="9.6" font-weight="bold" text-anchor="start" fill="#111" stroke="#111" stroke-width="0.3" >2 nd</text>
<text transform="translate(208.7,286.4) scale(1,1.08)" font-size="9.6" font-weight="bold" text-anchor="start" fill="#111" stroke="#111" stroke-width="0.3" >0.1 mV/s</text>
<line x1="190.1" y1="208.9" x2="202.2" y2="208.9" stroke="#6a6a6a" stroke-width="1.5" />
<text x="205.4" y="212.2" font-size="9.7" font-weight="bold" fill="#111" stroke="#111" stroke-width="0.3">CeO<tspan font-size="6.8" dy="2.8">2</tspan><tspan dy="-2.8">-25</tspan></text>
<line x1="190.1" y1="217.4" x2="202.2" y2="217.4" stroke="#f77" stroke-width="1.5" />
<text x="205.4" y="220.7" font-size="9.7" font-weight="bold" fill="#111" stroke="#111" stroke-width="0.3">CeO<tspan font-size="6.8" dy="2.8">2</tspan><tspan dy="-2.8">-50</tspan></text>
<line x1="190.1" y1="226.3" x2="202.2" y2="226.3" stroke="#4a7aae" stroke-width="1.5" />
<text x="205.4" y="229.6" font-size="9.7" font-weight="bold" fill="#111" stroke="#111" stroke-width="0.3">CeO<tspan font-size="6.8" dy="2.8">2</tspan><tspan dy="-2.8">-75</tspan></text>
<line x1="190.1" y1="235.6" x2="202.2" y2="235.6" stroke="#d88a4a" stroke-width="1.5" />
<text x="205.4" y="238.9" font-size="9.7" font-weight="bold" fill="#111" stroke="#111" stroke-width="0.3">CeO<tspan font-size="6.8" dy="2.8">2</tspan><tspan dy="-2.8">-100</tspan></text>
<text transform="translate(262.2,214.7) scale(1,0.92)" font-size="19.5" font-weight="normal" text-anchor="start" fill="#1a1a1a" stroke="#1a1a1a" stroke-width="0.3" >(d)</text>
<g fill="#353535"><circle cx="326.01" cy="346.21" r="1.65"/><circle cx="328.17" cy="341.92" r="1.65"/><circle cx="330.94" cy="338.03" r="1.65"/><circle cx="334.54" cy="334.85" r="1.65"/><circle cx="338.53" cy="332.2" r="1.65"/><circle cx="342.68" cy="329.78" r="1.65"/><circle cx="346.85" cy="327.41" r="1.65"/><circle cx="351.38" cy="325.87" r="1.65"/><circle cx="356.1" cy="324.97" r="1.65"/><circle cx="360.85" cy="324.31" r="1.65"/><circle cx="365.64" cy="323.97" r="1.65"/><circle cx="370.44" cy="323.88" r="1.65"/><circle cx="375.22" cy="324.18" r="1.65"/><circle cx="379.91" cy="325.18" r="1.65"/><circle cx="384.42" cy="326.81" r="1.65"/><circle cx="388.98" cy="328.31" r="1.65"/><circle cx="393.24" cy="330.49" r="1.65"/><circle cx="397.09" cy="333.36" r="1.65"/><circle cx="400.63" cy="336.6" r="1.65"/><circle cx="402.68" cy="339.04" r="1.65"/><circle cx="404.4" cy="341.73" r="1.65"/><circle cx="407.14" cy="340.89" r="1.65"/><circle cx="408.88" cy="338.25" r="1.65"/><circle cx="409.78" cy="335.18" r="1.65"/><circle cx="410.43" cy="331.97" r="1.65"/><circle cx="411.75" cy="325.59" r="1.65"/><circle cx="413.25" cy="321.43" r="1.65"/><circle cx="414.75" cy="315.49" r="1.65"/><circle cx="416.81" cy="308.67" r="1.65"/><circle cx="418.69" cy="300.06" r="1.65"/><circle cx="421.31" cy="289.67" r="1.65"/><circle cx="424.13" cy="276.46" r="1.65"/><circle cx="427.69" cy="260.73" r="1.65"/><circle cx="432.01" cy="240.85" r="1.65"/><circle cx="438.2" cy="216.36" r="1.65"/></g>
<g fill="#f5545a"><circle cx="332.77" cy="346.21" r="1.65"/><circle cx="333.52" cy="344.15" r="1.65"/><circle cx="334.34" cy="342.11" r="1.65"/><circle cx="335.29" cy="340.12" r="1.65"/><circle cx="336.4" cy="338.22" r="1.65"/><circle cx="337.61" cy="336.39" r="1.65"/><circle cx="338.98" cy="334.66" r="1.65"/><circle cx="340.57" cy="333.15" r="1.65"/><circle cx="342.39" cy="331.92" r="1.65"/><circle cx="344.3" cy="330.83" r="1.65"/><circle cx="346.19" cy="329.7" r="1.65"/><circle cx="350.36" cy="327.33" r="1.65"/><circle cx="354.77" cy="325.44" r="1.65"/><circle cx="359.31" cy="323.88" r="1.65"/><circle cx="363.91" cy="322.49" r="1.65"/><circle cx="368.58" cy="321.42" r="1.65"/><circle cx="373.37" cy="321.29" r="1.65"/><circle cx="378.14" cy="321.77" r="1.65"/><circle cx="382.93" cy="322.15" r="1.65"/><circle cx="387.66" cy="322.92" r="1.65"/><circle cx="392.18" cy="324.52" r="1.65"/><circle cx="396.55" cy="326.5" r="1.65"/><circle cx="400.62" cy="329.04" r="1.65"/><circle cx="404.34" cy="332.07" r="1.65"/><circle cx="407.28" cy="335.85" r="1.65"/><circle cx="408.96" cy="338.09" r="1.65"/><circle cx="410.81" cy="340.19" r="1.65"/><circle cx="412.8" cy="342.16" r="1.65"/><circle cx="415.08" cy="343.79" r="1.65"/><circle cx="417.71" cy="344.56" r="1.65"/><circle cx="420.24" cy="343.43" r="1.65"/><circle cx="422.43" cy="341.69" r="1.65"/><circle cx="424.38" cy="339.69" r="1.65"/><circle cx="426.04" cy="337.43" r="1.65"/><circle cx="427.59" cy="335.1" r="1.65"/><circle cx="429.07" cy="332.72" r="1.65"/><circle cx="430.47" cy="330.3" r="1.65"/><circle cx="431.84" cy="327.86" r="1.65"/><circle cx="434.63" cy="322.62" r="1.65"/><circle cx="437.07" cy="317.87" r="1.65"/><circle cx="438.57" cy="311.78" r="1.65"/><circle cx="439.7" cy="304.66" r="1.65"/><circle cx="440.82" cy="296.5" r="1.65"/></g>
<g fill="#2a6099"><circle cx="326.01" cy="346.21" r="1.6"/><circle cx="326.96" cy="344.45" r="1.6"/><circle cx="327.97" cy="342.73" r="1.6"/><circle cx="329.1" cy="341.07" r="1.6"/><circle cx="330.47" cy="339.62" r="1.6"/><circle cx="332.05" cy="338.41" r="1.6"/><circle cx="333.77" cy="337.39" r="1.6"/><circle cx="335.6" cy="336.57" r="1.6"/><circle cx="337.54" cy="336.12" r="1.6"/><circle cx="339.52" cy="335.85" r="1.6"/><circle cx="341.49" cy="335.51" r="1.6"/><circle cx="343.46" cy="335.18" r="1.6"/><circle cx="345.44" cy="334.89" r="1.6"/><circle cx="347.43" cy="334.69" r="1.6"/><circle cx="349.43" cy="334.64" r="1.6"/><circle cx="351.43" cy="334.72" r="1.6"/><circle cx="353.42" cy="334.9" r="1.6"/><circle cx="355.4" cy="335.18" r="1.6"/><circle cx="357.37" cy="335.56" r="1.6"/><circle cx="359.31" cy="336.03" r="1.6"/><circle cx="361.23" cy="336.59" r="1.6"/><circle cx="363.11" cy="337.26" r="1.6"/><circle cx="364.95" cy="338.04" r="1.6"/><circle cx="366.72" cy="338.98" r="1.6"/><circle cx="368.33" cy="340.15" r="1.6"/><circle cx="369.86" cy="341.45" r="1.6"/><circle cx="371.41" cy="342.72" r="1.6"/><circle cx="373.13" cy="343.73" r="1.6"/><circle cx="375.01" cy="344.38" r="1.6"/><circle cx="376.99" cy="344.7" r="1.6"/><circle cx="378.98" cy="344.85" r="1.6"/><circle cx="380.98" cy="344.84" r="1.6"/><circle cx="382.96" cy="344.57" r="1.6"/><circle cx="384.83" cy="343.9" r="1.6"/><circle cx="386.49" cy="342.79" r="1.6"/><circle cx="389.58" cy="340.24" r="1.6"/><circle cx="392.94" cy="338.08" r="1.6"/><circle cx="396.38" cy="336.03" r="1.6"/><circle cx="405.74" cy="328.85" r="1.6"/><circle cx="410.62" cy="324.84" r="1.6"/><circle cx="413.62" cy="321.88" r="1.6"/><circle cx="418.31" cy="318.76" r="1.6"/><circle cx="422.63" cy="314.01" r="1.6"/><circle cx="427.32" cy="308.96" r="1.6"/></g>
<g fill="#c8670f"><circle cx="326.01" cy="346.21" r="1.6"/><circle cx="327" cy="344.25" r="1.6"/><circle cx="328.05" cy="342.31" r="1.6"/><circle cx="329.21" cy="340.44" r="1.6"/><circle cx="330.6" cy="338.74" r="1.6"/><circle cx="332.17" cy="337.21" r="1.6"/><circle cx="333.88" cy="335.83" r="1.6"/><circle cx="335.73" cy="334.63" r="1.6"/><circle cx="337.74" cy="333.75" r="1.6"/><circle cx="339.85" cy="333.12" r="1.6"/><circle cx="342" cy="332.66" r="1.6"/><circle cx="344.18" cy="332.37" r="1.6"/><circle cx="346.37" cy="332.16" r="1.6"/><circle cx="348.57" cy="332.03" r="1.6"/><circle cx="350.77" cy="331.97" r="1.6"/><circle cx="352.97" cy="331.96" r="1.6"/><circle cx="355.16" cy="332.02" r="1.6"/><circle cx="357.36" cy="332.15" r="1.6"/><circle cx="359.55" cy="332.38" r="1.6"/><circle cx="361.73" cy="332.66" r="1.6"/><circle cx="363.91" cy="332.98" r="1.6"/><circle cx="366.06" cy="333.42" r="1.6"/><circle cx="368.18" cy="334.03" r="1.6"/><circle cx="370.22" cy="334.84" r="1.6"/><circle cx="372.2" cy="335.79" r="1.6"/><circle cx="374.13" cy="336.85" r="1.6"/><circle cx="376.01" cy="337.99" r="1.6"/><circle cx="377.83" cy="339.23" r="1.6"/><circle cx="379.49" cy="340.67" r="1.6"/><circle cx="381.07" cy="342.2" r="1.6"/><circle cx="382.76" cy="343.6" r="1.6"/><circle cx="384.75" cy="344.15" r="1.6"/><circle cx="386.46" cy="342.78" r="1.6"/><circle cx="387.96" cy="341.18" r="1.6"/><circle cx="389.46" cy="339.57" r="1.6"/><circle cx="390.87" cy="337.88" r="1.6"/><circle cx="392.27" cy="336.18" r="1.6"/><circle cx="393.73" cy="334.54" r="1.6"/><circle cx="395.27" cy="332.96" r="1.6"/><circle cx="396.85" cy="331.44" r="1.6"/><circle cx="398.48" cy="329.96" r="1.6"/><circle cx="400.17" cy="328.54" r="1.6"/><circle cx="401.88" cy="327.16" r="1.6"/></g>
<rect x="324.7" y="199.0" width="187.59999999999997" height="148.39999999999998" fill="none" stroke="#3a3a3a" stroke-width="1.15"/>
<line x1="324.7" y1="347.4" x2="327.7" y2="347.4" stroke="#3a3a3a" stroke-width="0.9" />
<line x1="324.7" y1="347.4" x2="324.7" y2="344.4" stroke="#3a3a3a" stroke-width="0.9" />
<line x1="324.7" y1="332.56" x2="326.7" y2="332.56" stroke="#3a3a3a" stroke-width="0.9" />
<line x1="343.46" y1="347.4" x2="343.46" y2="345.4" stroke="#3a3a3a" stroke-width="0.9" />
<line x1="324.7" y1="317.72" x2="327.7" y2="317.72" stroke="#3a3a3a" stroke-width="0.9" />
<line x1="362.22" y1="347.4" x2="362.22" y2="344.4" stroke="#3a3a3a" stroke-width="0.9" />
<line x1="324.7" y1="302.88" x2="326.7" y2="302.88" stroke="#3a3a3a" stroke-width="0.9" />
<line x1="380.98" y1="347.4" x2="380.98" y2="345.4" stroke="#3a3a3a" stroke-width="0.9" />
<line x1="324.7" y1="288.04" x2="327.7" y2="288.04" stroke="#3a3a3a" stroke-width="0.9" />
<line x1="399.74" y1="347.4" x2="399.74" y2="344.4" stroke="#3a3a3a" stroke-width="0.9" />
<line x1="324.7" y1="273.2" x2="326.7" y2="273.2" stroke="#3a3a3a" stroke-width="0.9" />
<line x1="418.5" y1="347.4" x2="418.5" y2="345.4" stroke="#3a3a3a" stroke-width="0.9" />
<line x1="324.7" y1="258.36" x2="327.7" y2="258.36" stroke="#3a3a3a" stroke-width="0.9" />
<line x1="437.26" y1="347.4" x2="437.26" y2="344.4" stroke="#3a3a3a" stroke-width="0.9" />
<line x1="324.7" y1="243.52" x2="326.7" y2="243.52" stroke="#3a3a3a" stroke-width="0.9" />
<line x1="456.02" y1="347.4" x2="456.02" y2="345.4" stroke="#3a3a3a" stroke-width="0.9" />
<line x1="324.7" y1="228.68" x2="327.7" y2="228.68" stroke="#3a3a3a" stroke-width="0.9" />
<line x1="474.78" y1="347.4" x2="474.78" y2="344.4" stroke="#3a3a3a" stroke-width="0.9" />
<line x1="324.7" y1="213.84" x2="326.7" y2="213.84" stroke="#3a3a3a" stroke-width="0.9" />
<line x1="493.54" y1="347.4" x2="493.54" y2="345.4" stroke="#3a3a3a" stroke-width="0.9" />
<line x1="324.7" y1="199" x2="327.7" y2="199" stroke="#3a3a3a" stroke-width="0.9" />
<line x1="512.3" y1="347.4" x2="512.3" y2="344.4" stroke="#3a3a3a" stroke-width="0.9" />
<text transform="translate(321.8,351) scale(1,1.08)" font-size="9.3" font-weight="bold" text-anchor="end" fill="#111" stroke="#111" stroke-width="0.3" >0</text>
<text transform="translate(324.7,358.6) scale(1,1.08)" font-size="9.3" font-weight="bold" text-anchor="middle" fill="#111" stroke="#111" stroke-width="0.3" >0</text>
<text transform="translate(321.8,321.32) scale(1,1.08)" font-size="9.3" font-weight="bold" text-anchor="end" fill="#111" stroke="#111" stroke-width="0.3" >20</text>
<text transform="translate(362.22,358.6) scale(1,1.08)" font-size="9.3" font-weight="bold" text-anchor="middle" fill="#111" stroke="#111" stroke-width="0.3" >20</text>
<text transform="translate(321.8,291.64) scale(1,1.08)" font-size="9.3" font-weight="bold" text-anchor="end" fill="#111" stroke="#111" stroke-width="0.3" >40</text>
<text transform="translate(399.74,358.6) scale(1,1.08)" font-size="9.3" font-weight="bold" text-anchor="middle" fill="#111" stroke="#111" stroke-width="0.3" >40</text>
<text transform="translate(321.8,261.96) scale(1,1.08)" font-size="9.3" font-weight="bold" text-anchor="end" fill="#111" stroke="#111" stroke-width="0.3" >60</text>
<text transform="translate(437.26,358.6) scale(1,1.08)" font-size="9.3" font-weight="bold" text-anchor="middle" fill="#111" stroke="#111" stroke-width="0.3" >60</text>
<text transform="translate(321.8,232.28) scale(1,1.08)" font-size="9.3" font-weight="bold" text-anchor="end" fill="#111" stroke="#111" stroke-width="0.3" >80</text>
<text transform="translate(474.78,358.6) scale(1,1.08)" font-size="9.3" font-weight="bold" text-anchor="middle" fill="#111" stroke="#111" stroke-width="0.3" >80</text>
<text transform="translate(321.8,202.6) scale(1,1.08)" font-size="9.3" font-weight="bold" text-anchor="end" fill="#111" stroke="#111" stroke-width="0.3" >100</text>
<text transform="translate(512.3,358.6) scale(1,1.08)" font-size="9.3" font-weight="bold" text-anchor="middle" fill="#111" stroke="#111" stroke-width="0.3" >100</text>
<text transform="translate(304.2,308.5) rotate(-90)" font-size="13.1" font-weight="bold" text-anchor="start" fill="#111" stroke="#111" stroke-width="0.3">- Z'' (ohm)</text>
<text x="394.5" y="376.4" font-size="12.4" font-weight="bold" text-anchor="start" fill="#111" stroke="#111" stroke-width="0.3" >Z' (ohm)</text>
<g fill="#353535"><circle cx="339.3" cy="207.3" r="1.9"/></g>
<text x="353" y="210.5" font-size="9.5" font-weight="bold" fill="#111" stroke="#111" stroke-width="0.3">CeO<tspan font-size="6.8" dy="2.7">2</tspan><tspan dy="-2.6">-25</tspan></text>
<g fill="#f5545a"><circle cx="339.3" cy="221" r="1.9"/></g>
<text x="353" y="224.2" font-size="9.5" font-weight="bold" fill="#111" stroke="#111" stroke-width="0.3">CeO<tspan font-size="6.8" dy="2.7">2</tspan><tspan dy="-2.6">-50</tspan></text>
<g fill="#2a6099"><circle cx="339.3" cy="235.3" r="1.9"/></g>
<text x="353" y="238.5" font-size="9.5" font-weight="bold" fill="#111" stroke="#111" stroke-width="0.3">CeO<tspan font-size="6.8" dy="2.7">2</tspan><tspan dy="-2.6">-75</tspan></text>
<g fill="#c8670f"><circle cx="339.3" cy="249.3" r="1.9"/></g>
<text x="353" y="252.5" font-size="9.5" font-weight="bold" fill="#111" stroke="#111" stroke-width="0.3">CeO<tspan font-size="6.8" dy="2.7">2</tspan><tspan dy="-2.6">-100</tspan></text>
</svg></body></html>
